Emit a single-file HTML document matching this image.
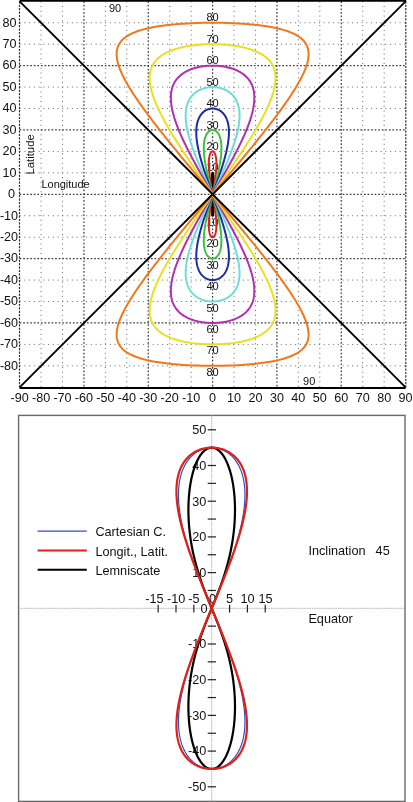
<!DOCTYPE html>
<html><head><meta charset="utf-8"><style>
html,body{margin:0;padding:0;background:#fff;}
body{width:413px;height:802px;overflow:hidden;}
svg{display:block;}
</style></head><body>
<svg width="413" height="802" viewBox="0 0 413 802">
<line x1="41.05" y1="1.30" x2="41.05" y2="387.30" stroke="#666" stroke-width="1" stroke-dasharray="1 3.75"/>
<line x1="19.60" y1="365.85" x2="405.60" y2="365.85" stroke="#666" stroke-width="1" stroke-dasharray="1 3.75"/>
<line x1="62.49" y1="1.30" x2="62.49" y2="387.30" stroke="#666" stroke-width="1" stroke-dasharray="1 3.75"/>
<line x1="19.60" y1="344.41" x2="405.60" y2="344.41" stroke="#666" stroke-width="1" stroke-dasharray="1 3.75"/>
<line x1="83.94" y1="1.30" x2="83.94" y2="387.30" stroke="#3c3c3c" stroke-width="1.2" stroke-dasharray="1.7 1.85"/>
<line x1="19.60" y1="322.96" x2="405.60" y2="322.96" stroke="#3c3c3c" stroke-width="1.2" stroke-dasharray="1.7 1.85"/>
<line x1="105.38" y1="1.30" x2="105.38" y2="387.30" stroke="#666" stroke-width="1" stroke-dasharray="1 3.75"/>
<line x1="19.60" y1="301.52" x2="405.60" y2="301.52" stroke="#666" stroke-width="1" stroke-dasharray="1 3.75"/>
<line x1="126.82" y1="1.30" x2="126.82" y2="387.30" stroke="#666" stroke-width="1" stroke-dasharray="1 3.75"/>
<line x1="19.60" y1="280.08" x2="405.60" y2="280.08" stroke="#666" stroke-width="1" stroke-dasharray="1 3.75"/>
<line x1="148.27" y1="1.30" x2="148.27" y2="387.30" stroke="#3c3c3c" stroke-width="1.2" stroke-dasharray="1.7 1.85"/>
<line x1="19.60" y1="258.63" x2="405.60" y2="258.63" stroke="#3c3c3c" stroke-width="1.2" stroke-dasharray="1.7 1.85"/>
<line x1="169.71" y1="1.30" x2="169.71" y2="387.30" stroke="#666" stroke-width="1" stroke-dasharray="1 3.75"/>
<line x1="19.60" y1="237.19" x2="405.60" y2="237.19" stroke="#666" stroke-width="1" stroke-dasharray="1 3.75"/>
<line x1="191.16" y1="1.30" x2="191.16" y2="387.30" stroke="#666" stroke-width="1" stroke-dasharray="1 3.75"/>
<line x1="19.60" y1="215.74" x2="405.60" y2="215.74" stroke="#666" stroke-width="1" stroke-dasharray="1 3.75"/>
<line x1="212.60" y1="1.30" x2="212.60" y2="387.30" stroke="#3c3c3c" stroke-width="1.2" stroke-dasharray="1.7 1.85"/>
<line x1="19.60" y1="194.30" x2="405.60" y2="194.30" stroke="#3c3c3c" stroke-width="1.2" stroke-dasharray="1.7 1.85"/>
<line x1="234.04" y1="1.30" x2="234.04" y2="387.30" stroke="#666" stroke-width="1" stroke-dasharray="1 3.75"/>
<line x1="19.60" y1="172.86" x2="405.60" y2="172.86" stroke="#666" stroke-width="1" stroke-dasharray="1 3.75"/>
<line x1="255.49" y1="1.30" x2="255.49" y2="387.30" stroke="#666" stroke-width="1" stroke-dasharray="1 3.75"/>
<line x1="19.60" y1="151.41" x2="405.60" y2="151.41" stroke="#666" stroke-width="1" stroke-dasharray="1 3.75"/>
<line x1="276.93" y1="1.30" x2="276.93" y2="387.30" stroke="#3c3c3c" stroke-width="1.2" stroke-dasharray="1.7 1.85"/>
<line x1="19.60" y1="129.97" x2="405.60" y2="129.97" stroke="#3c3c3c" stroke-width="1.2" stroke-dasharray="1.7 1.85"/>
<line x1="298.38" y1="1.30" x2="298.38" y2="387.30" stroke="#666" stroke-width="1" stroke-dasharray="1 3.75"/>
<line x1="19.60" y1="108.52" x2="405.60" y2="108.52" stroke="#666" stroke-width="1" stroke-dasharray="1 3.75"/>
<line x1="319.82" y1="1.30" x2="319.82" y2="387.30" stroke="#666" stroke-width="1" stroke-dasharray="1 3.75"/>
<line x1="19.60" y1="87.08" x2="405.60" y2="87.08" stroke="#666" stroke-width="1" stroke-dasharray="1 3.75"/>
<line x1="341.26" y1="1.30" x2="341.26" y2="387.30" stroke="#3c3c3c" stroke-width="1.2" stroke-dasharray="1.7 1.85"/>
<line x1="19.60" y1="65.64" x2="405.60" y2="65.64" stroke="#3c3c3c" stroke-width="1.2" stroke-dasharray="1.7 1.85"/>
<line x1="362.71" y1="1.30" x2="362.71" y2="387.30" stroke="#666" stroke-width="1" stroke-dasharray="1 3.75"/>
<line x1="19.60" y1="44.19" x2="405.60" y2="44.19" stroke="#666" stroke-width="1" stroke-dasharray="1 3.75"/>
<line x1="384.15" y1="1.30" x2="384.15" y2="387.30" stroke="#666" stroke-width="1" stroke-dasharray="1 3.75"/>
<line x1="19.60" y1="22.75" x2="405.60" y2="22.75" stroke="#666" stroke-width="1" stroke-dasharray="1 3.75"/>
<line x1="19.5" y1="1.30" x2="19.5" y2="387.30" stroke="#333" stroke-width="1.2" stroke-dasharray="2.2 1.2"/>
<line x1="405.8" y1="1.30" x2="405.8" y2="387.30" stroke="#333" stroke-width="1.2" stroke-dasharray="2.2 1.2"/>
<path d="M212.60,194.30 L212.58,194.11 L212.57,193.93 L212.55,193.74 L212.53,193.56 L212.52,193.37 L212.50,193.18 L212.49,193.00 L212.47,192.81 L212.45,192.63 L212.44,192.44 L212.42,192.26 L212.41,192.07 L212.39,191.88 L212.37,191.70 L212.36,191.51 L212.34,191.33 L212.33,191.15 L212.31,190.96 L212.30,190.78 L212.28,190.59 L212.27,190.41 L212.25,190.23 L212.24,190.05 L212.22,189.86 L212.21,189.68 L212.19,189.50 L212.18,189.32 L212.16,189.14 L212.15,188.96 L212.13,188.78 L212.12,188.60 L212.10,188.42 L212.09,188.24 L212.08,188.06 L212.06,187.88 L212.05,187.70 L212.04,187.53 L212.02,187.35 L212.01,187.17 L212.00,187.00 L211.99,186.82 L211.97,186.65 L211.96,186.48 L211.95,186.30 L211.94,186.13 L211.93,185.96 L211.92,185.79 L211.90,185.61 L211.89,185.44 L211.88,185.28 L211.87,185.11 L211.86,184.94 L211.85,184.77 L211.84,184.60 L211.83,184.44 L211.82,184.27 L211.81,184.11 L211.81,183.94 L211.80,183.78 L211.79,183.62 L211.78,183.46 L211.77,183.30 L211.76,183.14 L211.76,182.98 L211.75,182.82 L211.74,182.66 L211.74,182.51 L211.73,182.35 L211.72,182.20 L211.72,182.04 L211.71,181.89 L211.71,181.74 L211.70,181.59 L211.70,181.44 L211.69,181.29 L211.69,181.14 L211.69,180.99 L211.68,180.85 L211.68,180.70 L211.68,180.56 L211.67,180.41 L211.67,180.27 L211.67,180.13 L211.67,179.99 L211.66,179.85 L211.66,179.72 L211.66,179.58 L211.66,179.44 L211.66,179.31 L211.66,179.18 L211.66,179.04 L211.66,178.91 L211.66,178.78 L211.66,178.65 L211.66,178.53 L211.66,178.40 L211.67,178.28 L211.67,178.15 L211.67,178.03 L211.67,177.91 L211.68,177.79 L211.68,177.67 L211.68,177.55 L211.69,177.43 L211.69,177.32 L211.69,177.21 L211.70,177.09 L211.70,176.98 L211.71,176.87 L211.71,176.76 L211.72,176.66 L211.73,176.55 L211.73,176.45 L211.74,176.34 L211.74,176.24 L211.75,176.14 L211.76,176.04 L211.77,175.94 L211.77,175.85 L211.78,175.75 L211.79,175.66 L211.80,175.57 L211.81,175.48 L211.82,175.39 L211.83,175.30 L211.84,175.21 L211.85,175.13 L211.86,175.05 L211.87,174.96 L211.88,174.88 L211.89,174.80 L211.90,174.73 L211.91,174.65 L211.92,174.58 L211.93,174.50 L211.94,174.43 L211.96,174.36 L211.97,174.29 L211.98,174.23 L211.99,174.16 L212.00,174.10 L212.02,174.04 L212.03,173.97 L212.04,173.92 L212.06,173.86 L212.07,173.80 L212.08,173.75 L212.10,173.69 L212.11,173.64 L212.13,173.59 L212.14,173.55 L212.16,173.50 L212.17,173.45 L212.18,173.41 L212.20,173.37 L212.21,173.33 L212.23,173.29 L212.25,173.25 L212.26,173.22 L212.28,173.19 L212.29,173.15 L212.31,173.12 L212.32,173.09 L212.34,173.07 L212.35,173.04 L212.37,173.02 L212.39,173.00 L212.40,172.97 L212.42,172.96 L212.44,172.94 L212.45,172.92 L212.47,172.91 L212.48,172.90 L212.50,172.89 L212.52,172.88 L212.53,172.87 L212.55,172.86 L212.57,172.86 L212.58,172.86 L212.60,172.86 L212.62,172.86 L212.63,172.86 L212.65,172.86 L212.67,172.87 L212.68,172.88 L212.70,172.89 L212.72,172.90 L212.73,172.91 L212.75,172.92 L212.76,172.94 L212.78,172.96 L212.80,172.97 L212.81,173.00 L212.83,173.02 L212.85,173.04 L212.86,173.07 L212.88,173.09 L212.89,173.12 L212.91,173.15 L212.92,173.19 L212.94,173.22 L212.95,173.25 L212.97,173.29 L212.99,173.33 L213.00,173.37 L213.02,173.41 L213.03,173.45 L213.04,173.50 L213.06,173.55 L213.07,173.59 L213.09,173.64 L213.10,173.69 L213.12,173.75 L213.13,173.80 L213.14,173.86 L213.16,173.92 L213.17,173.97 L213.18,174.04 L213.20,174.10 L213.21,174.16 L213.22,174.23 L213.23,174.29 L213.24,174.36 L213.26,174.43 L213.27,174.50 L213.28,174.58 L213.29,174.65 L213.30,174.73 L213.31,174.80 L213.32,174.88 L213.33,174.96 L213.34,175.05 L213.35,175.13 L213.36,175.21 L213.37,175.30 L213.38,175.39 L213.39,175.48 L213.40,175.57 L213.41,175.66 L213.42,175.75 L213.43,175.85 L213.43,175.94 L213.44,176.04 L213.45,176.14 L213.46,176.24 L213.46,176.34 L213.47,176.45 L213.47,176.55 L213.48,176.66 L213.49,176.76 L213.49,176.87 L213.50,176.98 L213.50,177.09 L213.51,177.21 L213.51,177.32 L213.51,177.43 L213.52,177.55 L213.52,177.67 L213.52,177.79 L213.53,177.91 L213.53,178.03 L213.53,178.15 L213.53,178.28 L213.54,178.40 L213.54,178.53 L213.54,178.65 L213.54,178.78 L213.54,178.91 L213.54,179.04 L213.54,179.18 L213.54,179.31 L213.54,179.44 L213.54,179.58 L213.54,179.72 L213.54,179.85 L213.53,179.99 L213.53,180.13 L213.53,180.27 L213.53,180.41 L213.52,180.56 L213.52,180.70 L213.52,180.85 L213.51,180.99 L213.51,181.14 L213.51,181.29 L213.50,181.44 L213.50,181.59 L213.49,181.74 L213.49,181.89 L213.48,182.04 L213.48,182.20 L213.47,182.35 L213.46,182.51 L213.46,182.66 L213.45,182.82 L213.44,182.98 L213.44,183.14 L213.43,183.30 L213.42,183.46 L213.41,183.62 L213.40,183.78 L213.39,183.94 L213.39,184.11 L213.38,184.27 L213.37,184.44 L213.36,184.60 L213.35,184.77 L213.34,184.94 L213.33,185.11 L213.32,185.28 L213.31,185.44 L213.30,185.61 L213.28,185.79 L213.27,185.96 L213.26,186.13 L213.25,186.30 L213.24,186.48 L213.23,186.65 L213.21,186.82 L213.20,187.00 L213.19,187.17 L213.18,187.35 L213.16,187.53 L213.15,187.70 L213.14,187.88 L213.12,188.06 L213.11,188.24 L213.10,188.42 L213.08,188.60 L213.07,188.78 L213.05,188.96 L213.04,189.14 L213.02,189.32 L213.01,189.50 L212.99,189.68 L212.98,189.86 L212.96,190.05 L212.95,190.23 L212.93,190.41 L212.92,190.59 L212.90,190.78 L212.89,190.96 L212.87,191.15 L212.86,191.33 L212.84,191.51 L212.83,191.70 L212.81,191.88 L212.79,192.07 L212.78,192.26 L212.76,192.44 L212.75,192.63 L212.73,192.81 L212.71,193.00 L212.70,193.18 L212.68,193.37 L212.67,193.56 L212.65,193.74 L212.63,193.93 L212.62,194.11 L212.60,194.30 L212.58,194.49 L212.57,194.67 L212.55,194.86 L212.53,195.04 L212.52,195.23 L212.50,195.42 L212.49,195.60 L212.47,195.79 L212.45,195.97 L212.44,196.16 L212.42,196.34 L212.41,196.53 L212.39,196.72 L212.37,196.90 L212.36,197.09 L212.34,197.27 L212.33,197.45 L212.31,197.64 L212.30,197.82 L212.28,198.01 L212.27,198.19 L212.25,198.37 L212.24,198.55 L212.22,198.74 L212.21,198.92 L212.19,199.10 L212.18,199.28 L212.16,199.46 L212.15,199.64 L212.13,199.82 L212.12,200.00 L212.10,200.18 L212.09,200.36 L212.08,200.54 L212.06,200.72 L212.05,200.90 L212.04,201.07 L212.02,201.25 L212.01,201.43 L212.00,201.60 L211.99,201.78 L211.97,201.95 L211.96,202.12 L211.95,202.30 L211.94,202.47 L211.93,202.64 L211.92,202.81 L211.90,202.99 L211.89,203.16 L211.88,203.32 L211.87,203.49 L211.86,203.66 L211.85,203.83 L211.84,204.00 L211.83,204.16 L211.82,204.33 L211.81,204.49 L211.81,204.66 L211.80,204.82 L211.79,204.98 L211.78,205.14 L211.77,205.30 L211.76,205.46 L211.76,205.62 L211.75,205.78 L211.74,205.94 L211.74,206.09 L211.73,206.25 L211.72,206.40 L211.72,206.56 L211.71,206.71 L211.71,206.86 L211.70,207.01 L211.70,207.16 L211.69,207.31 L211.69,207.46 L211.69,207.61 L211.68,207.75 L211.68,207.90 L211.68,208.04 L211.67,208.19 L211.67,208.33 L211.67,208.47 L211.67,208.61 L211.66,208.75 L211.66,208.88 L211.66,209.02 L211.66,209.16 L211.66,209.29 L211.66,209.42 L211.66,209.56 L211.66,209.69 L211.66,209.82 L211.66,209.95 L211.66,210.07 L211.66,210.20 L211.67,210.32 L211.67,210.45 L211.67,210.57 L211.67,210.69 L211.68,210.81 L211.68,210.93 L211.68,211.05 L211.69,211.17 L211.69,211.28 L211.69,211.39 L211.70,211.51 L211.70,211.62 L211.71,211.73 L211.71,211.84 L211.72,211.94 L211.73,212.05 L211.73,212.15 L211.74,212.26 L211.74,212.36 L211.75,212.46 L211.76,212.56 L211.77,212.66 L211.77,212.75 L211.78,212.85 L211.79,212.94 L211.80,213.03 L211.81,213.12 L211.82,213.21 L211.83,213.30 L211.84,213.39 L211.85,213.47 L211.86,213.55 L211.87,213.64 L211.88,213.72 L211.89,213.80 L211.90,213.87 L211.91,213.95 L211.92,214.02 L211.93,214.10 L211.94,214.17 L211.96,214.24 L211.97,214.31 L211.98,214.37 L211.99,214.44 L212.00,214.50 L212.02,214.56 L212.03,214.63 L212.04,214.68 L212.06,214.74 L212.07,214.80 L212.08,214.85 L212.10,214.91 L212.11,214.96 L212.13,215.01 L212.14,215.05 L212.16,215.10 L212.17,215.15 L212.18,215.19 L212.20,215.23 L212.21,215.27 L212.23,215.31 L212.25,215.35 L212.26,215.38 L212.28,215.41 L212.29,215.45 L212.31,215.48 L212.32,215.51 L212.34,215.53 L212.35,215.56 L212.37,215.58 L212.39,215.60 L212.40,215.63 L212.42,215.64 L212.44,215.66 L212.45,215.68 L212.47,215.69 L212.48,215.70 L212.50,215.71 L212.52,215.72 L212.53,215.73 L212.55,215.74 L212.57,215.74 L212.58,215.74 L212.60,215.74 L212.62,215.74 L212.63,215.74 L212.65,215.74 L212.67,215.73 L212.68,215.72 L212.70,215.71 L212.72,215.70 L212.73,215.69 L212.75,215.68 L212.76,215.66 L212.78,215.64 L212.80,215.63 L212.81,215.60 L212.83,215.58 L212.85,215.56 L212.86,215.53 L212.88,215.51 L212.89,215.48 L212.91,215.45 L212.92,215.41 L212.94,215.38 L212.95,215.35 L212.97,215.31 L212.99,215.27 L213.00,215.23 L213.02,215.19 L213.03,215.15 L213.04,215.10 L213.06,215.05 L213.07,215.01 L213.09,214.96 L213.10,214.91 L213.12,214.85 L213.13,214.80 L213.14,214.74 L213.16,214.68 L213.17,214.63 L213.18,214.56 L213.20,214.50 L213.21,214.44 L213.22,214.37 L213.23,214.31 L213.24,214.24 L213.26,214.17 L213.27,214.10 L213.28,214.02 L213.29,213.95 L213.30,213.87 L213.31,213.80 L213.32,213.72 L213.33,213.64 L213.34,213.55 L213.35,213.47 L213.36,213.39 L213.37,213.30 L213.38,213.21 L213.39,213.12 L213.40,213.03 L213.41,212.94 L213.42,212.85 L213.43,212.75 L213.43,212.66 L213.44,212.56 L213.45,212.46 L213.46,212.36 L213.46,212.26 L213.47,212.15 L213.47,212.05 L213.48,211.94 L213.49,211.84 L213.49,211.73 L213.50,211.62 L213.50,211.51 L213.51,211.39 L213.51,211.28 L213.51,211.17 L213.52,211.05 L213.52,210.93 L213.52,210.81 L213.53,210.69 L213.53,210.57 L213.53,210.45 L213.53,210.32 L213.54,210.20 L213.54,210.07 L213.54,209.95 L213.54,209.82 L213.54,209.69 L213.54,209.56 L213.54,209.42 L213.54,209.29 L213.54,209.16 L213.54,209.02 L213.54,208.88 L213.54,208.75 L213.53,208.61 L213.53,208.47 L213.53,208.33 L213.53,208.19 L213.52,208.04 L213.52,207.90 L213.52,207.75 L213.51,207.61 L213.51,207.46 L213.51,207.31 L213.50,207.16 L213.50,207.01 L213.49,206.86 L213.49,206.71 L213.48,206.56 L213.48,206.40 L213.47,206.25 L213.46,206.09 L213.46,205.94 L213.45,205.78 L213.44,205.62 L213.44,205.46 L213.43,205.30 L213.42,205.14 L213.41,204.98 L213.40,204.82 L213.39,204.66 L213.39,204.49 L213.38,204.33 L213.37,204.16 L213.36,204.00 L213.35,203.83 L213.34,203.66 L213.33,203.49 L213.32,203.32 L213.31,203.16 L213.30,202.99 L213.28,202.81 L213.27,202.64 L213.26,202.47 L213.25,202.30 L213.24,202.12 L213.23,201.95 L213.21,201.78 L213.20,201.60 L213.19,201.43 L213.18,201.25 L213.16,201.07 L213.15,200.90 L213.14,200.72 L213.12,200.54 L213.11,200.36 L213.10,200.18 L213.08,200.00 L213.07,199.82 L213.05,199.64 L213.04,199.46 L213.02,199.28 L213.01,199.10 L212.99,198.92 L212.98,198.74 L212.96,198.55 L212.95,198.37 L212.93,198.19 L212.92,198.01 L212.90,197.82 L212.89,197.64 L212.87,197.45 L212.86,197.27 L212.84,197.09 L212.83,196.90 L212.81,196.72 L212.79,196.53 L212.78,196.34 L212.76,196.16 L212.75,195.97 L212.73,195.79 L212.71,195.60 L212.70,195.42 L212.68,195.23 L212.67,195.04 L212.65,194.86 L212.63,194.67 L212.62,194.49 L212.60,194.30Z" fill="none" stroke="#000000" stroke-width="2.0" stroke-linejoin="round"/>
<g font-family="Liberation Sans, Arial, Helvetica, sans-serif" font-size="11" fill="#111"><text x="212.60" y="171.46" text-anchor="middle">10</text><text x="212.60" y="225.74" text-anchor="middle">10</text></g>
<path d="M212.60,194.30 L212.54,193.93 L212.47,193.57 L212.41,193.20 L212.34,192.83 L212.28,192.47 L212.21,192.10 L212.15,191.73 L212.08,191.37 L212.02,191.00 L211.96,190.64 L211.89,190.27 L211.83,189.91 L211.77,189.54 L211.70,189.18 L211.64,188.81 L211.58,188.45 L211.52,188.09 L211.45,187.72 L211.39,187.36 L211.33,187.00 L211.27,186.64 L211.21,186.28 L211.15,185.92 L211.09,185.56 L211.03,185.20 L210.97,184.84 L210.91,184.48 L210.85,184.12 L210.80,183.77 L210.74,183.41 L210.68,183.05 L210.63,182.70 L210.57,182.35 L210.52,181.99 L210.46,181.64 L210.41,181.29 L210.36,180.94 L210.30,180.59 L210.25,180.24 L210.20,179.89 L210.15,179.55 L210.10,179.20 L210.05,178.86 L210.00,178.51 L209.96,178.17 L209.91,177.83 L209.86,177.49 L209.82,177.15 L209.78,176.81 L209.73,176.48 L209.69,176.14 L209.65,175.81 L209.61,175.48 L209.57,175.14 L209.53,174.81 L209.49,174.49 L209.45,174.16 L209.41,173.83 L209.38,173.51 L209.34,173.19 L209.31,172.86 L209.28,172.54 L209.24,172.22 L209.21,171.91 L209.18,171.59 L209.15,171.28 L209.13,170.97 L209.10,170.66 L209.07,170.35 L209.05,170.04 L209.03,169.73 L209.00,169.43 L208.98,169.13 L208.96,168.83 L208.94,168.53 L208.92,168.23 L208.90,167.94 L208.89,167.65 L208.87,167.36 L208.86,167.07 L208.85,166.78 L208.83,166.49 L208.82,166.21 L208.81,165.93 L208.81,165.65 L208.80,165.37 L208.79,165.10 L208.79,164.83 L208.78,164.56 L208.78,164.29 L208.78,164.02 L208.78,163.76 L208.78,163.50 L208.78,163.24 L208.79,162.98 L208.79,162.72 L208.80,162.47 L208.80,162.22 L208.81,161.97 L208.82,161.73 L208.83,161.49 L208.84,161.25 L208.85,161.01 L208.87,160.77 L208.88,160.54 L208.90,160.31 L208.91,160.08 L208.93,159.85 L208.95,159.63 L208.97,159.41 L208.99,159.19 L209.02,158.98 L209.04,158.76 L209.07,158.55 L209.09,158.35 L209.12,158.14 L209.15,157.94 L209.18,157.74 L209.21,157.55 L209.24,157.35 L209.27,157.16 L209.31,156.97 L209.34,156.79 L209.38,156.61 L209.41,156.43 L209.45,156.25 L209.49,156.08 L209.53,155.91 L209.57,155.74 L209.61,155.58 L209.66,155.42 L209.70,155.26 L209.75,155.10 L209.79,154.95 L209.84,154.80 L209.89,154.65 L209.93,154.51 L209.98,154.37 L210.03,154.23 L210.08,154.10 L210.14,153.97 L210.19,153.84 L210.24,153.72 L210.30,153.59 L210.35,153.48 L210.41,153.36 L210.46,153.25 L210.52,153.14 L210.58,153.03 L210.64,152.93 L210.70,152.83 L210.76,152.74 L210.82,152.65 L210.88,152.56 L210.94,152.47 L211.00,152.39 L211.06,152.31 L211.13,152.23 L211.19,152.16 L211.25,152.09 L211.32,152.02 L211.38,151.96 L211.45,151.90 L211.51,151.85 L211.58,151.79 L211.65,151.75 L211.71,151.70 L211.78,151.66 L211.85,151.62 L211.92,151.58 L211.98,151.55 L212.05,151.52 L212.12,151.50 L212.19,151.47 L212.26,151.45 L212.32,151.44 L212.39,151.43 L212.46,151.42 L212.53,151.41 L212.60,151.41 L212.67,151.41 L212.74,151.42 L212.81,151.43 L212.88,151.44 L212.94,151.45 L213.01,151.47 L213.08,151.50 L213.15,151.52 L213.22,151.55 L213.28,151.58 L213.35,151.62 L213.42,151.66 L213.49,151.70 L213.55,151.75 L213.62,151.79 L213.69,151.85 L213.75,151.90 L213.82,151.96 L213.88,152.02 L213.95,152.09 L214.01,152.16 L214.07,152.23 L214.14,152.31 L214.20,152.39 L214.26,152.47 L214.32,152.56 L214.38,152.65 L214.44,152.74 L214.50,152.83 L214.56,152.93 L214.62,153.03 L214.68,153.14 L214.74,153.25 L214.79,153.36 L214.85,153.48 L214.90,153.59 L214.96,153.72 L215.01,153.84 L215.06,153.97 L215.12,154.10 L215.17,154.23 L215.22,154.37 L215.27,154.51 L215.31,154.65 L215.36,154.80 L215.41,154.95 L215.45,155.10 L215.50,155.26 L215.54,155.42 L215.59,155.58 L215.63,155.74 L215.67,155.91 L215.71,156.08 L215.75,156.25 L215.79,156.43 L215.82,156.61 L215.86,156.79 L215.89,156.97 L215.93,157.16 L215.96,157.35 L215.99,157.55 L216.02,157.74 L216.05,157.94 L216.08,158.14 L216.11,158.35 L216.13,158.55 L216.16,158.76 L216.18,158.98 L216.21,159.19 L216.23,159.41 L216.25,159.63 L216.27,159.85 L216.29,160.08 L216.30,160.31 L216.32,160.54 L216.33,160.77 L216.35,161.01 L216.36,161.25 L216.37,161.49 L216.38,161.73 L216.39,161.97 L216.40,162.22 L216.40,162.47 L216.41,162.72 L216.41,162.98 L216.42,163.24 L216.42,163.50 L216.42,163.76 L216.42,164.02 L216.42,164.29 L216.42,164.56 L216.41,164.83 L216.41,165.10 L216.40,165.37 L216.39,165.65 L216.39,165.93 L216.38,166.21 L216.37,166.49 L216.35,166.78 L216.34,167.07 L216.33,167.36 L216.31,167.65 L216.30,167.94 L216.28,168.23 L216.26,168.53 L216.24,168.83 L216.22,169.13 L216.20,169.43 L216.17,169.73 L216.15,170.04 L216.13,170.35 L216.10,170.66 L216.07,170.97 L216.05,171.28 L216.02,171.59 L215.99,171.91 L215.96,172.22 L215.92,172.54 L215.89,172.86 L215.86,173.19 L215.82,173.51 L215.79,173.83 L215.75,174.16 L215.71,174.49 L215.67,174.81 L215.63,175.14 L215.59,175.48 L215.55,175.81 L215.51,176.14 L215.47,176.48 L215.42,176.81 L215.38,177.15 L215.34,177.49 L215.29,177.83 L215.24,178.17 L215.20,178.51 L215.15,178.86 L215.10,179.20 L215.05,179.55 L215.00,179.89 L214.95,180.24 L214.90,180.59 L214.84,180.94 L214.79,181.29 L214.74,181.64 L214.68,181.99 L214.63,182.35 L214.57,182.70 L214.52,183.05 L214.46,183.41 L214.40,183.77 L214.35,184.12 L214.29,184.48 L214.23,184.84 L214.17,185.20 L214.11,185.56 L214.05,185.92 L213.99,186.28 L213.93,186.64 L213.87,187.00 L213.81,187.36 L213.75,187.72 L213.68,188.09 L213.62,188.45 L213.56,188.81 L213.50,189.18 L213.43,189.54 L213.37,189.91 L213.31,190.27 L213.24,190.64 L213.18,191.00 L213.12,191.37 L213.05,191.73 L212.99,192.10 L212.92,192.47 L212.86,192.83 L212.79,193.20 L212.73,193.57 L212.66,193.93 L212.60,194.30 L212.54,194.67 L212.47,195.03 L212.41,195.40 L212.34,195.77 L212.28,196.13 L212.21,196.50 L212.15,196.87 L212.08,197.23 L212.02,197.60 L211.96,197.96 L211.89,198.33 L211.83,198.69 L211.77,199.06 L211.70,199.42 L211.64,199.79 L211.58,200.15 L211.52,200.51 L211.45,200.88 L211.39,201.24 L211.33,201.60 L211.27,201.96 L211.21,202.32 L211.15,202.68 L211.09,203.04 L211.03,203.40 L210.97,203.76 L210.91,204.12 L210.85,204.48 L210.80,204.83 L210.74,205.19 L210.68,205.55 L210.63,205.90 L210.57,206.25 L210.52,206.61 L210.46,206.96 L210.41,207.31 L210.36,207.66 L210.30,208.01 L210.25,208.36 L210.20,208.71 L210.15,209.05 L210.10,209.40 L210.05,209.74 L210.00,210.09 L209.96,210.43 L209.91,210.77 L209.86,211.11 L209.82,211.45 L209.78,211.79 L209.73,212.12 L209.69,212.46 L209.65,212.79 L209.61,213.12 L209.57,213.46 L209.53,213.79 L209.49,214.11 L209.45,214.44 L209.41,214.77 L209.38,215.09 L209.34,215.41 L209.31,215.74 L209.28,216.06 L209.24,216.38 L209.21,216.69 L209.18,217.01 L209.15,217.32 L209.13,217.63 L209.10,217.94 L209.07,218.25 L209.05,218.56 L209.03,218.87 L209.00,219.17 L208.98,219.47 L208.96,219.77 L208.94,220.07 L208.92,220.37 L208.90,220.66 L208.89,220.95 L208.87,221.24 L208.86,221.53 L208.85,221.82 L208.83,222.11 L208.82,222.39 L208.81,222.67 L208.81,222.95 L208.80,223.23 L208.79,223.50 L208.79,223.77 L208.78,224.04 L208.78,224.31 L208.78,224.58 L208.78,224.84 L208.78,225.10 L208.78,225.36 L208.79,225.62 L208.79,225.88 L208.80,226.13 L208.80,226.38 L208.81,226.63 L208.82,226.87 L208.83,227.11 L208.84,227.35 L208.85,227.59 L208.87,227.83 L208.88,228.06 L208.90,228.29 L208.91,228.52 L208.93,228.75 L208.95,228.97 L208.97,229.19 L208.99,229.41 L209.02,229.62 L209.04,229.84 L209.07,230.05 L209.09,230.25 L209.12,230.46 L209.15,230.66 L209.18,230.86 L209.21,231.05 L209.24,231.25 L209.27,231.44 L209.31,231.63 L209.34,231.81 L209.38,231.99 L209.41,232.17 L209.45,232.35 L209.49,232.52 L209.53,232.69 L209.57,232.86 L209.61,233.02 L209.66,233.18 L209.70,233.34 L209.75,233.50 L209.79,233.65 L209.84,233.80 L209.89,233.95 L209.93,234.09 L209.98,234.23 L210.03,234.37 L210.08,234.50 L210.14,234.63 L210.19,234.76 L210.24,234.88 L210.30,235.01 L210.35,235.12 L210.41,235.24 L210.46,235.35 L210.52,235.46 L210.58,235.57 L210.64,235.67 L210.70,235.77 L210.76,235.86 L210.82,235.95 L210.88,236.04 L210.94,236.13 L211.00,236.21 L211.06,236.29 L211.13,236.37 L211.19,236.44 L211.25,236.51 L211.32,236.58 L211.38,236.64 L211.45,236.70 L211.51,236.75 L211.58,236.81 L211.65,236.85 L211.71,236.90 L211.78,236.94 L211.85,236.98 L211.92,237.02 L211.98,237.05 L212.05,237.08 L212.12,237.10 L212.19,237.13 L212.26,237.15 L212.32,237.16 L212.39,237.17 L212.46,237.18 L212.53,237.19 L212.60,237.19 L212.67,237.19 L212.74,237.18 L212.81,237.17 L212.88,237.16 L212.94,237.15 L213.01,237.13 L213.08,237.10 L213.15,237.08 L213.22,237.05 L213.28,237.02 L213.35,236.98 L213.42,236.94 L213.49,236.90 L213.55,236.85 L213.62,236.81 L213.69,236.75 L213.75,236.70 L213.82,236.64 L213.88,236.58 L213.95,236.51 L214.01,236.44 L214.07,236.37 L214.14,236.29 L214.20,236.21 L214.26,236.13 L214.32,236.04 L214.38,235.95 L214.44,235.86 L214.50,235.77 L214.56,235.67 L214.62,235.57 L214.68,235.46 L214.74,235.35 L214.79,235.24 L214.85,235.12 L214.90,235.01 L214.96,234.88 L215.01,234.76 L215.06,234.63 L215.12,234.50 L215.17,234.37 L215.22,234.23 L215.27,234.09 L215.31,233.95 L215.36,233.80 L215.41,233.65 L215.45,233.50 L215.50,233.34 L215.54,233.18 L215.59,233.02 L215.63,232.86 L215.67,232.69 L215.71,232.52 L215.75,232.35 L215.79,232.17 L215.82,231.99 L215.86,231.81 L215.89,231.63 L215.93,231.44 L215.96,231.25 L215.99,231.05 L216.02,230.86 L216.05,230.66 L216.08,230.46 L216.11,230.25 L216.13,230.05 L216.16,229.84 L216.18,229.62 L216.21,229.41 L216.23,229.19 L216.25,228.97 L216.27,228.75 L216.29,228.52 L216.30,228.29 L216.32,228.06 L216.33,227.83 L216.35,227.59 L216.36,227.35 L216.37,227.11 L216.38,226.87 L216.39,226.63 L216.40,226.38 L216.40,226.13 L216.41,225.88 L216.41,225.62 L216.42,225.36 L216.42,225.10 L216.42,224.84 L216.42,224.58 L216.42,224.31 L216.42,224.04 L216.41,223.77 L216.41,223.50 L216.40,223.23 L216.39,222.95 L216.39,222.67 L216.38,222.39 L216.37,222.11 L216.35,221.82 L216.34,221.53 L216.33,221.24 L216.31,220.95 L216.30,220.66 L216.28,220.37 L216.26,220.07 L216.24,219.77 L216.22,219.47 L216.20,219.17 L216.17,218.87 L216.15,218.56 L216.13,218.25 L216.10,217.94 L216.07,217.63 L216.05,217.32 L216.02,217.01 L215.99,216.69 L215.96,216.38 L215.92,216.06 L215.89,215.74 L215.86,215.41 L215.82,215.09 L215.79,214.77 L215.75,214.44 L215.71,214.11 L215.67,213.79 L215.63,213.46 L215.59,213.12 L215.55,212.79 L215.51,212.46 L215.47,212.12 L215.42,211.79 L215.38,211.45 L215.34,211.11 L215.29,210.77 L215.24,210.43 L215.20,210.09 L215.15,209.74 L215.10,209.40 L215.05,209.05 L215.00,208.71 L214.95,208.36 L214.90,208.01 L214.84,207.66 L214.79,207.31 L214.74,206.96 L214.68,206.61 L214.63,206.25 L214.57,205.90 L214.52,205.55 L214.46,205.19 L214.40,204.83 L214.35,204.48 L214.29,204.12 L214.23,203.76 L214.17,203.40 L214.11,203.04 L214.05,202.68 L213.99,202.32 L213.93,201.96 L213.87,201.60 L213.81,201.24 L213.75,200.88 L213.68,200.51 L213.62,200.15 L213.56,199.79 L213.50,199.42 L213.43,199.06 L213.37,198.69 L213.31,198.33 L213.24,197.96 L213.18,197.60 L213.12,197.23 L213.05,196.87 L212.99,196.50 L212.92,196.13 L212.86,195.77 L212.79,195.40 L212.73,195.03 L212.66,194.67 L212.60,194.30Z" fill="none" stroke="#e02020" stroke-width="2.0" stroke-linejoin="round"/>
<g font-family="Liberation Sans, Arial, Helvetica, sans-serif" font-size="11" fill="#111"><text x="212.60" y="150.01" text-anchor="middle">20</text><text x="212.60" y="247.19" text-anchor="middle">20</text></g>
<path d="M212.60,194.30 L212.46,193.76 L212.31,193.23 L212.17,192.69 L212.03,192.16 L211.88,191.62 L211.74,191.08 L211.60,190.55 L211.45,190.01 L211.31,189.48 L211.17,188.94 L211.03,188.41 L210.89,187.88 L210.75,187.34 L210.61,186.81 L210.47,186.28 L210.33,185.74 L210.19,185.21 L210.05,184.68 L209.91,184.15 L209.77,183.62 L209.64,183.09 L209.50,182.56 L209.37,182.03 L209.23,181.50 L209.10,180.98 L208.97,180.45 L208.84,179.93 L208.71,179.40 L208.58,178.88 L208.45,178.36 L208.32,177.83 L208.20,177.31 L208.07,176.79 L207.95,176.27 L207.82,175.76 L207.70,175.24 L207.58,174.72 L207.46,174.21 L207.35,173.70 L207.23,173.19 L207.11,172.67 L207.00,172.17 L206.89,171.66 L206.78,171.15 L206.67,170.64 L206.56,170.14 L206.45,169.64 L206.35,169.14 L206.25,168.64 L206.15,168.14 L206.05,167.64 L205.95,167.15 L205.85,166.66 L205.76,166.16 L205.67,165.68 L205.58,165.19 L205.49,164.70 L205.40,164.22 L205.32,163.73 L205.23,163.25 L205.15,162.78 L205.07,162.30 L205.00,161.82 L204.92,161.35 L204.85,160.88 L204.78,160.41 L204.71,159.95 L204.65,159.48 L204.58,159.02 L204.52,158.56 L204.46,158.10 L204.40,157.65 L204.35,157.20 L204.30,156.75 L204.25,156.30 L204.20,155.85 L204.15,155.41 L204.11,154.97 L204.07,154.53 L204.03,154.10 L204.00,153.67 L203.97,153.24 L203.93,152.81 L203.91,152.39 L203.88,151.96 L203.86,151.55 L203.84,151.13 L203.82,150.72 L203.81,150.31 L203.79,149.90 L203.78,149.50 L203.78,149.10 L203.77,148.70 L203.77,148.30 L203.77,147.91 L203.78,147.53 L203.78,147.14 L203.79,146.76 L203.80,146.38 L203.82,146.01 L203.84,145.63 L203.86,145.27 L203.88,144.90 L203.90,144.54 L203.93,144.18 L203.96,143.83 L204.00,143.48 L204.03,143.13 L204.07,142.79 L204.12,142.45 L204.16,142.12 L204.21,141.79 L204.26,141.46 L204.31,141.13 L204.37,140.82 L204.43,140.50 L204.49,140.19 L204.55,139.88 L204.62,139.58 L204.69,139.28 L204.76,138.98 L204.83,138.69 L204.91,138.40 L204.99,138.12 L205.07,137.84 L205.16,137.57 L205.25,137.30 L205.34,137.03 L205.43,136.77 L205.52,136.52 L205.62,136.26 L205.72,136.02 L205.82,135.77 L205.93,135.54 L206.04,135.30 L206.14,135.07 L206.26,134.85 L206.37,134.63 L206.49,134.41 L206.60,134.20 L206.72,134.00 L206.85,133.80 L206.97,133.60 L207.10,133.41 L207.23,133.23 L207.36,133.05 L207.49,132.87 L207.63,132.70 L207.76,132.53 L207.90,132.37 L208.04,132.22 L208.18,132.06 L208.32,131.92 L208.47,131.78 L208.61,131.64 L208.76,131.51 L208.91,131.39 L209.06,131.27 L209.21,131.15 L209.37,131.04 L209.52,130.94 L209.67,130.84 L209.83,130.75 L209.99,130.66 L210.15,130.57 L210.31,130.50 L210.47,130.42 L210.63,130.36 L210.79,130.29 L210.95,130.24 L211.11,130.19 L211.28,130.14 L211.44,130.10 L211.61,130.07 L211.77,130.04 L211.94,130.01 L212.10,129.99 L212.27,129.98 L212.43,129.97 L212.60,129.97 L212.77,129.97 L212.93,129.98 L213.10,129.99 L213.26,130.01 L213.43,130.04 L213.59,130.07 L213.76,130.10 L213.92,130.14 L214.09,130.19 L214.25,130.24 L214.41,130.29 L214.57,130.36 L214.73,130.42 L214.89,130.50 L215.05,130.57 L215.21,130.66 L215.37,130.75 L215.53,130.84 L215.68,130.94 L215.83,131.04 L215.99,131.15 L216.14,131.27 L216.29,131.39 L216.44,131.51 L216.59,131.64 L216.73,131.78 L216.88,131.92 L217.02,132.06 L217.16,132.22 L217.30,132.37 L217.44,132.53 L217.57,132.70 L217.71,132.87 L217.84,133.05 L217.97,133.23 L218.10,133.41 L218.23,133.60 L218.35,133.80 L218.48,134.00 L218.60,134.20 L218.71,134.41 L218.83,134.63 L218.94,134.85 L219.06,135.07 L219.16,135.30 L219.27,135.54 L219.38,135.77 L219.48,136.02 L219.58,136.26 L219.68,136.52 L219.77,136.77 L219.86,137.03 L219.95,137.30 L220.04,137.57 L220.13,137.84 L220.21,138.12 L220.29,138.40 L220.37,138.69 L220.44,138.98 L220.51,139.28 L220.58,139.58 L220.65,139.88 L220.71,140.19 L220.77,140.50 L220.83,140.82 L220.89,141.13 L220.94,141.46 L220.99,141.79 L221.04,142.12 L221.08,142.45 L221.13,142.79 L221.17,143.13 L221.20,143.48 L221.24,143.83 L221.27,144.18 L221.30,144.54 L221.32,144.90 L221.34,145.27 L221.36,145.63 L221.38,146.01 L221.40,146.38 L221.41,146.76 L221.42,147.14 L221.42,147.53 L221.43,147.91 L221.43,148.30 L221.43,148.70 L221.42,149.10 L221.42,149.50 L221.41,149.90 L221.39,150.31 L221.38,150.72 L221.36,151.13 L221.34,151.55 L221.32,151.96 L221.29,152.39 L221.27,152.81 L221.23,153.24 L221.20,153.67 L221.17,154.10 L221.13,154.53 L221.09,154.97 L221.05,155.41 L221.00,155.85 L220.95,156.30 L220.90,156.75 L220.85,157.20 L220.80,157.65 L220.74,158.10 L220.68,158.56 L220.62,159.02 L220.55,159.48 L220.49,159.95 L220.42,160.41 L220.35,160.88 L220.28,161.35 L220.20,161.82 L220.13,162.30 L220.05,162.78 L219.97,163.25 L219.88,163.73 L219.80,164.22 L219.71,164.70 L219.62,165.19 L219.53,165.68 L219.44,166.16 L219.35,166.66 L219.25,167.15 L219.15,167.64 L219.05,168.14 L218.95,168.64 L218.85,169.14 L218.75,169.64 L218.64,170.14 L218.53,170.64 L218.42,171.15 L218.31,171.66 L218.20,172.17 L218.09,172.67 L217.97,173.19 L217.85,173.70 L217.74,174.21 L217.62,174.72 L217.50,175.24 L217.38,175.76 L217.25,176.27 L217.13,176.79 L217.00,177.31 L216.88,177.83 L216.75,178.36 L216.62,178.88 L216.49,179.40 L216.36,179.93 L216.23,180.45 L216.10,180.98 L215.97,181.50 L215.83,182.03 L215.70,182.56 L215.56,183.09 L215.43,183.62 L215.29,184.15 L215.15,184.68 L215.01,185.21 L214.87,185.74 L214.73,186.28 L214.59,186.81 L214.45,187.34 L214.31,187.88 L214.17,188.41 L214.03,188.94 L213.89,189.48 L213.75,190.01 L213.60,190.55 L213.46,191.08 L213.32,191.62 L213.17,192.16 L213.03,192.69 L212.89,193.23 L212.74,193.76 L212.60,194.30 L212.46,194.84 L212.31,195.37 L212.17,195.91 L212.03,196.44 L211.88,196.98 L211.74,197.52 L211.60,198.05 L211.45,198.59 L211.31,199.12 L211.17,199.66 L211.03,200.19 L210.89,200.72 L210.75,201.26 L210.61,201.79 L210.47,202.32 L210.33,202.86 L210.19,203.39 L210.05,203.92 L209.91,204.45 L209.77,204.98 L209.64,205.51 L209.50,206.04 L209.37,206.57 L209.23,207.10 L209.10,207.62 L208.97,208.15 L208.84,208.67 L208.71,209.20 L208.58,209.72 L208.45,210.24 L208.32,210.77 L208.20,211.29 L208.07,211.81 L207.95,212.33 L207.82,212.84 L207.70,213.36 L207.58,213.88 L207.46,214.39 L207.35,214.90 L207.23,215.41 L207.11,215.93 L207.00,216.43 L206.89,216.94 L206.78,217.45 L206.67,217.96 L206.56,218.46 L206.45,218.96 L206.35,219.46 L206.25,219.96 L206.15,220.46 L206.05,220.96 L205.95,221.45 L205.85,221.94 L205.76,222.44 L205.67,222.92 L205.58,223.41 L205.49,223.90 L205.40,224.38 L205.32,224.87 L205.23,225.35 L205.15,225.82 L205.07,226.30 L205.00,226.78 L204.92,227.25 L204.85,227.72 L204.78,228.19 L204.71,228.65 L204.65,229.12 L204.58,229.58 L204.52,230.04 L204.46,230.50 L204.40,230.95 L204.35,231.40 L204.30,231.85 L204.25,232.30 L204.20,232.75 L204.15,233.19 L204.11,233.63 L204.07,234.07 L204.03,234.50 L204.00,234.93 L203.97,235.36 L203.93,235.79 L203.91,236.21 L203.88,236.64 L203.86,237.05 L203.84,237.47 L203.82,237.88 L203.81,238.29 L203.79,238.70 L203.78,239.10 L203.78,239.50 L203.77,239.90 L203.77,240.30 L203.77,240.69 L203.78,241.07 L203.78,241.46 L203.79,241.84 L203.80,242.22 L203.82,242.59 L203.84,242.97 L203.86,243.33 L203.88,243.70 L203.90,244.06 L203.93,244.42 L203.96,244.77 L204.00,245.12 L204.03,245.47 L204.07,245.81 L204.12,246.15 L204.16,246.48 L204.21,246.81 L204.26,247.14 L204.31,247.47 L204.37,247.78 L204.43,248.10 L204.49,248.41 L204.55,248.72 L204.62,249.02 L204.69,249.32 L204.76,249.62 L204.83,249.91 L204.91,250.20 L204.99,250.48 L205.07,250.76 L205.16,251.03 L205.25,251.30 L205.34,251.57 L205.43,251.83 L205.52,252.08 L205.62,252.34 L205.72,252.58 L205.82,252.83 L205.93,253.06 L206.04,253.30 L206.14,253.53 L206.26,253.75 L206.37,253.97 L206.49,254.19 L206.60,254.40 L206.72,254.60 L206.85,254.80 L206.97,255.00 L207.10,255.19 L207.23,255.37 L207.36,255.55 L207.49,255.73 L207.63,255.90 L207.76,256.07 L207.90,256.23 L208.04,256.38 L208.18,256.54 L208.32,256.68 L208.47,256.82 L208.61,256.96 L208.76,257.09 L208.91,257.21 L209.06,257.33 L209.21,257.45 L209.37,257.56 L209.52,257.66 L209.67,257.76 L209.83,257.85 L209.99,257.94 L210.15,258.03 L210.31,258.10 L210.47,258.18 L210.63,258.24 L210.79,258.31 L210.95,258.36 L211.11,258.41 L211.28,258.46 L211.44,258.50 L211.61,258.53 L211.77,258.56 L211.94,258.59 L212.10,258.61 L212.27,258.62 L212.43,258.63 L212.60,258.63 L212.77,258.63 L212.93,258.62 L213.10,258.61 L213.26,258.59 L213.43,258.56 L213.59,258.53 L213.76,258.50 L213.92,258.46 L214.09,258.41 L214.25,258.36 L214.41,258.31 L214.57,258.24 L214.73,258.18 L214.89,258.10 L215.05,258.03 L215.21,257.94 L215.37,257.85 L215.53,257.76 L215.68,257.66 L215.83,257.56 L215.99,257.45 L216.14,257.33 L216.29,257.21 L216.44,257.09 L216.59,256.96 L216.73,256.82 L216.88,256.68 L217.02,256.54 L217.16,256.38 L217.30,256.23 L217.44,256.07 L217.57,255.90 L217.71,255.73 L217.84,255.55 L217.97,255.37 L218.10,255.19 L218.23,255.00 L218.35,254.80 L218.48,254.60 L218.60,254.40 L218.71,254.19 L218.83,253.97 L218.94,253.75 L219.06,253.53 L219.16,253.30 L219.27,253.06 L219.38,252.83 L219.48,252.58 L219.58,252.34 L219.68,252.08 L219.77,251.83 L219.86,251.57 L219.95,251.30 L220.04,251.03 L220.13,250.76 L220.21,250.48 L220.29,250.20 L220.37,249.91 L220.44,249.62 L220.51,249.32 L220.58,249.02 L220.65,248.72 L220.71,248.41 L220.77,248.10 L220.83,247.78 L220.89,247.47 L220.94,247.14 L220.99,246.81 L221.04,246.48 L221.08,246.15 L221.13,245.81 L221.17,245.47 L221.20,245.12 L221.24,244.77 L221.27,244.42 L221.30,244.06 L221.32,243.70 L221.34,243.33 L221.36,242.97 L221.38,242.59 L221.40,242.22 L221.41,241.84 L221.42,241.46 L221.42,241.07 L221.43,240.69 L221.43,240.30 L221.43,239.90 L221.42,239.50 L221.42,239.10 L221.41,238.70 L221.39,238.29 L221.38,237.88 L221.36,237.47 L221.34,237.05 L221.32,236.64 L221.29,236.21 L221.27,235.79 L221.23,235.36 L221.20,234.93 L221.17,234.50 L221.13,234.07 L221.09,233.63 L221.05,233.19 L221.00,232.75 L220.95,232.30 L220.90,231.85 L220.85,231.40 L220.80,230.95 L220.74,230.50 L220.68,230.04 L220.62,229.58 L220.55,229.12 L220.49,228.65 L220.42,228.19 L220.35,227.72 L220.28,227.25 L220.20,226.78 L220.13,226.30 L220.05,225.82 L219.97,225.35 L219.88,224.87 L219.80,224.38 L219.71,223.90 L219.62,223.41 L219.53,222.92 L219.44,222.44 L219.35,221.94 L219.25,221.45 L219.15,220.96 L219.05,220.46 L218.95,219.96 L218.85,219.46 L218.75,218.96 L218.64,218.46 L218.53,217.96 L218.42,217.45 L218.31,216.94 L218.20,216.43 L218.09,215.93 L217.97,215.41 L217.85,214.90 L217.74,214.39 L217.62,213.88 L217.50,213.36 L217.38,212.84 L217.25,212.33 L217.13,211.81 L217.00,211.29 L216.88,210.77 L216.75,210.24 L216.62,209.72 L216.49,209.20 L216.36,208.67 L216.23,208.15 L216.10,207.62 L215.97,207.10 L215.83,206.57 L215.70,206.04 L215.56,205.51 L215.43,204.98 L215.29,204.45 L215.15,203.92 L215.01,203.39 L214.87,202.86 L214.73,202.32 L214.59,201.79 L214.45,201.26 L214.31,200.72 L214.17,200.19 L214.03,199.66 L213.89,199.12 L213.75,198.59 L213.60,198.05 L213.46,197.52 L213.32,196.98 L213.17,196.44 L213.03,195.91 L212.89,195.37 L212.74,194.84 L212.60,194.30Z" fill="none" stroke="#40c040" stroke-width="2.0" stroke-linejoin="round"/>
<g font-family="Liberation Sans, Arial, Helvetica, sans-serif" font-size="11" fill="#111"><text x="212.60" y="128.57" text-anchor="middle">30</text><text x="212.60" y="268.63" text-anchor="middle">30</text></g>
<path d="M212.60,194.30 L212.35,193.61 L212.10,192.92 L211.85,192.23 L211.60,191.54 L211.35,190.85 L211.10,190.17 L210.85,189.48 L210.60,188.79 L210.35,188.10 L210.10,187.41 L209.85,186.73 L209.60,186.04 L209.36,185.35 L209.11,184.67 L208.87,183.98 L208.62,183.29 L208.38,182.61 L208.14,181.92 L207.89,181.24 L207.65,180.56 L207.41,179.87 L207.17,179.19 L206.94,178.51 L206.70,177.83 L206.46,177.15 L206.23,176.47 L206.00,175.79 L205.77,175.12 L205.54,174.44 L205.31,173.76 L205.08,173.09 L204.86,172.42 L204.63,171.74 L204.41,171.07 L204.19,170.40 L203.97,169.73 L203.76,169.06 L203.54,168.40 L203.33,167.73 L203.12,167.07 L202.91,166.40 L202.71,165.74 L202.50,165.08 L202.30,164.42 L202.10,163.76 L201.91,163.11 L201.71,162.45 L201.52,161.80 L201.33,161.15 L201.14,160.50 L200.96,159.85 L200.78,159.20 L200.60,158.56 L200.42,157.92 L200.25,157.28 L200.08,156.64 L199.91,156.00 L199.75,155.36 L199.59,154.73 L199.43,154.10 L199.28,153.47 L199.12,152.84 L198.98,152.22 L198.83,151.59 L198.69,150.97 L198.55,150.36 L198.42,149.74 L198.29,149.13 L198.16,148.52 L198.04,147.91 L197.92,147.30 L197.80,146.70 L197.69,146.10 L197.58,145.50 L197.48,144.90 L197.38,144.31 L197.28,143.72 L197.19,143.13 L197.10,142.55 L197.02,141.97 L196.94,141.39 L196.86,140.81 L196.79,140.24 L196.72,139.67 L196.66,139.11 L196.60,138.54 L196.55,137.99 L196.50,137.43 L196.46,136.88 L196.42,136.33 L196.38,135.78 L196.35,135.24 L196.33,134.70 L196.31,134.17 L196.29,133.64 L196.28,133.11 L196.28,132.59 L196.28,132.07 L196.28,131.55 L196.29,131.04 L196.30,130.54 L196.32,130.03 L196.35,129.53 L196.38,129.04 L196.41,128.55 L196.45,128.06 L196.50,127.58 L196.55,127.11 L196.61,126.64 L196.67,126.17 L196.74,125.71 L196.81,125.25 L196.89,124.79 L196.97,124.35 L197.06,123.90 L197.15,123.47 L197.25,123.03 L197.35,122.60 L197.46,122.18 L197.58,121.76 L197.70,121.35 L197.83,120.94 L197.96,120.54 L198.09,120.15 L198.24,119.76 L198.38,119.37 L198.54,118.99 L198.69,118.62 L198.86,118.25 L199.03,117.89 L199.20,117.54 L199.38,117.19 L199.56,116.84 L199.75,116.51 L199.95,116.18 L200.15,115.85 L200.35,115.53 L200.56,115.22 L200.77,114.92 L200.99,114.62 L201.21,114.32 L201.44,114.04 L201.67,113.76 L201.91,113.49 L202.15,113.22 L202.40,112.96 L202.65,112.71 L202.90,112.47 L203.16,112.23 L203.42,112.00 L203.69,111.77 L203.96,111.56 L204.23,111.35 L204.51,111.14 L204.79,110.95 L205.08,110.76 L205.37,110.58 L205.66,110.41 L205.95,110.24 L206.25,110.08 L206.55,109.93 L206.85,109.79 L207.15,109.65 L207.46,109.52 L207.77,109.40 L208.08,109.29 L208.40,109.19 L208.71,109.09 L209.03,109.00 L209.35,108.92 L209.67,108.84 L209.99,108.77 L210.32,108.72 L210.64,108.67 L210.97,108.62 L211.29,108.59 L211.62,108.56 L211.95,108.54 L212.27,108.53 L212.60,108.52 L212.93,108.53 L213.25,108.54 L213.58,108.56 L213.91,108.59 L214.23,108.62 L214.56,108.67 L214.88,108.72 L215.21,108.77 L215.53,108.84 L215.85,108.92 L216.17,109.00 L216.49,109.09 L216.80,109.19 L217.12,109.29 L217.43,109.40 L217.74,109.52 L218.05,109.65 L218.35,109.79 L218.65,109.93 L218.95,110.08 L219.25,110.24 L219.54,110.41 L219.83,110.58 L220.12,110.76 L220.41,110.95 L220.69,111.14 L220.97,111.35 L221.24,111.56 L221.51,111.77 L221.78,112.00 L222.04,112.23 L222.30,112.47 L222.55,112.71 L222.80,112.96 L223.05,113.22 L223.29,113.49 L223.53,113.76 L223.76,114.04 L223.99,114.32 L224.21,114.62 L224.43,114.92 L224.64,115.22 L224.85,115.53 L225.05,115.85 L225.25,116.18 L225.45,116.51 L225.64,116.84 L225.82,117.19 L226.00,117.54 L226.17,117.89 L226.34,118.25 L226.51,118.62 L226.66,118.99 L226.82,119.37 L226.96,119.76 L227.11,120.15 L227.24,120.54 L227.37,120.94 L227.50,121.35 L227.62,121.76 L227.74,122.18 L227.85,122.60 L227.95,123.03 L228.05,123.47 L228.14,123.90 L228.23,124.35 L228.31,124.79 L228.39,125.25 L228.46,125.71 L228.53,126.17 L228.59,126.64 L228.65,127.11 L228.70,127.58 L228.75,128.06 L228.79,128.55 L228.82,129.04 L228.85,129.53 L228.88,130.03 L228.90,130.54 L228.91,131.04 L228.92,131.55 L228.92,132.07 L228.92,132.59 L228.92,133.11 L228.91,133.64 L228.89,134.17 L228.87,134.70 L228.85,135.24 L228.82,135.78 L228.78,136.33 L228.74,136.88 L228.70,137.43 L228.65,137.99 L228.60,138.54 L228.54,139.11 L228.48,139.67 L228.41,140.24 L228.34,140.81 L228.26,141.39 L228.18,141.97 L228.10,142.55 L228.01,143.13 L227.92,143.72 L227.82,144.31 L227.72,144.90 L227.62,145.50 L227.51,146.10 L227.40,146.70 L227.28,147.30 L227.16,147.91 L227.04,148.52 L226.91,149.13 L226.78,149.74 L226.65,150.36 L226.51,150.97 L226.37,151.59 L226.22,152.22 L226.08,152.84 L225.92,153.47 L225.77,154.10 L225.61,154.73 L225.45,155.36 L225.29,156.00 L225.12,156.64 L224.95,157.28 L224.78,157.92 L224.60,158.56 L224.42,159.20 L224.24,159.85 L224.06,160.50 L223.87,161.15 L223.68,161.80 L223.49,162.45 L223.29,163.11 L223.10,163.76 L222.90,164.42 L222.70,165.08 L222.49,165.74 L222.29,166.40 L222.08,167.07 L221.87,167.73 L221.66,168.40 L221.44,169.06 L221.23,169.73 L221.01,170.40 L220.79,171.07 L220.57,171.74 L220.34,172.42 L220.12,173.09 L219.89,173.76 L219.66,174.44 L219.43,175.12 L219.20,175.79 L218.97,176.47 L218.74,177.15 L218.50,177.83 L218.26,178.51 L218.03,179.19 L217.79,179.87 L217.55,180.56 L217.31,181.24 L217.06,181.92 L216.82,182.61 L216.58,183.29 L216.33,183.98 L216.09,184.67 L215.84,185.35 L215.60,186.04 L215.35,186.73 L215.10,187.41 L214.85,188.10 L214.60,188.79 L214.35,189.48 L214.10,190.17 L213.85,190.85 L213.60,191.54 L213.35,192.23 L213.10,192.92 L212.85,193.61 L212.60,194.30 L212.35,194.99 L212.10,195.68 L211.85,196.37 L211.60,197.06 L211.35,197.75 L211.10,198.43 L210.85,199.12 L210.60,199.81 L210.35,200.50 L210.10,201.19 L209.85,201.87 L209.60,202.56 L209.36,203.25 L209.11,203.93 L208.87,204.62 L208.62,205.31 L208.38,205.99 L208.14,206.68 L207.89,207.36 L207.65,208.04 L207.41,208.73 L207.17,209.41 L206.94,210.09 L206.70,210.77 L206.46,211.45 L206.23,212.13 L206.00,212.81 L205.77,213.48 L205.54,214.16 L205.31,214.84 L205.08,215.51 L204.86,216.18 L204.63,216.86 L204.41,217.53 L204.19,218.20 L203.97,218.87 L203.76,219.54 L203.54,220.20 L203.33,220.87 L203.12,221.53 L202.91,222.20 L202.71,222.86 L202.50,223.52 L202.30,224.18 L202.10,224.84 L201.91,225.49 L201.71,226.15 L201.52,226.80 L201.33,227.45 L201.14,228.10 L200.96,228.75 L200.78,229.40 L200.60,230.04 L200.42,230.68 L200.25,231.32 L200.08,231.96 L199.91,232.60 L199.75,233.24 L199.59,233.87 L199.43,234.50 L199.28,235.13 L199.12,235.76 L198.98,236.38 L198.83,237.01 L198.69,237.63 L198.55,238.24 L198.42,238.86 L198.29,239.47 L198.16,240.08 L198.04,240.69 L197.92,241.30 L197.80,241.90 L197.69,242.50 L197.58,243.10 L197.48,243.70 L197.38,244.29 L197.28,244.88 L197.19,245.47 L197.10,246.05 L197.02,246.63 L196.94,247.21 L196.86,247.79 L196.79,248.36 L196.72,248.93 L196.66,249.49 L196.60,250.06 L196.55,250.61 L196.50,251.17 L196.46,251.72 L196.42,252.27 L196.38,252.82 L196.35,253.36 L196.33,253.90 L196.31,254.43 L196.29,254.96 L196.28,255.49 L196.28,256.01 L196.28,256.53 L196.28,257.05 L196.29,257.56 L196.30,258.06 L196.32,258.57 L196.35,259.07 L196.38,259.56 L196.41,260.05 L196.45,260.54 L196.50,261.02 L196.55,261.49 L196.61,261.96 L196.67,262.43 L196.74,262.89 L196.81,263.35 L196.89,263.81 L196.97,264.25 L197.06,264.70 L197.15,265.13 L197.25,265.57 L197.35,266.00 L197.46,266.42 L197.58,266.84 L197.70,267.25 L197.83,267.66 L197.96,268.06 L198.09,268.45 L198.24,268.84 L198.38,269.23 L198.54,269.61 L198.69,269.98 L198.86,270.35 L199.03,270.71 L199.20,271.06 L199.38,271.41 L199.56,271.76 L199.75,272.09 L199.95,272.42 L200.15,272.75 L200.35,273.07 L200.56,273.38 L200.77,273.68 L200.99,273.98 L201.21,274.28 L201.44,274.56 L201.67,274.84 L201.91,275.11 L202.15,275.38 L202.40,275.64 L202.65,275.89 L202.90,276.13 L203.16,276.37 L203.42,276.60 L203.69,276.83 L203.96,277.04 L204.23,277.25 L204.51,277.46 L204.79,277.65 L205.08,277.84 L205.37,278.02 L205.66,278.19 L205.95,278.36 L206.25,278.52 L206.55,278.67 L206.85,278.81 L207.15,278.95 L207.46,279.08 L207.77,279.20 L208.08,279.31 L208.40,279.41 L208.71,279.51 L209.03,279.60 L209.35,279.68 L209.67,279.76 L209.99,279.83 L210.32,279.88 L210.64,279.93 L210.97,279.98 L211.29,280.01 L211.62,280.04 L211.95,280.06 L212.27,280.07 L212.60,280.08 L212.93,280.07 L213.25,280.06 L213.58,280.04 L213.91,280.01 L214.23,279.98 L214.56,279.93 L214.88,279.88 L215.21,279.83 L215.53,279.76 L215.85,279.68 L216.17,279.60 L216.49,279.51 L216.80,279.41 L217.12,279.31 L217.43,279.20 L217.74,279.08 L218.05,278.95 L218.35,278.81 L218.65,278.67 L218.95,278.52 L219.25,278.36 L219.54,278.19 L219.83,278.02 L220.12,277.84 L220.41,277.65 L220.69,277.46 L220.97,277.25 L221.24,277.04 L221.51,276.83 L221.78,276.60 L222.04,276.37 L222.30,276.13 L222.55,275.89 L222.80,275.64 L223.05,275.38 L223.29,275.11 L223.53,274.84 L223.76,274.56 L223.99,274.28 L224.21,273.98 L224.43,273.68 L224.64,273.38 L224.85,273.07 L225.05,272.75 L225.25,272.42 L225.45,272.09 L225.64,271.76 L225.82,271.41 L226.00,271.06 L226.17,270.71 L226.34,270.35 L226.51,269.98 L226.66,269.61 L226.82,269.23 L226.96,268.84 L227.11,268.45 L227.24,268.06 L227.37,267.66 L227.50,267.25 L227.62,266.84 L227.74,266.42 L227.85,266.00 L227.95,265.57 L228.05,265.13 L228.14,264.70 L228.23,264.25 L228.31,263.81 L228.39,263.35 L228.46,262.89 L228.53,262.43 L228.59,261.96 L228.65,261.49 L228.70,261.02 L228.75,260.54 L228.79,260.05 L228.82,259.56 L228.85,259.07 L228.88,258.57 L228.90,258.06 L228.91,257.56 L228.92,257.05 L228.92,256.53 L228.92,256.01 L228.92,255.49 L228.91,254.96 L228.89,254.43 L228.87,253.90 L228.85,253.36 L228.82,252.82 L228.78,252.27 L228.74,251.72 L228.70,251.17 L228.65,250.61 L228.60,250.06 L228.54,249.49 L228.48,248.93 L228.41,248.36 L228.34,247.79 L228.26,247.21 L228.18,246.63 L228.10,246.05 L228.01,245.47 L227.92,244.88 L227.82,244.29 L227.72,243.70 L227.62,243.10 L227.51,242.50 L227.40,241.90 L227.28,241.30 L227.16,240.69 L227.04,240.08 L226.91,239.47 L226.78,238.86 L226.65,238.24 L226.51,237.63 L226.37,237.01 L226.22,236.38 L226.08,235.76 L225.92,235.13 L225.77,234.50 L225.61,233.87 L225.45,233.24 L225.29,232.60 L225.12,231.96 L224.95,231.32 L224.78,230.68 L224.60,230.04 L224.42,229.40 L224.24,228.75 L224.06,228.10 L223.87,227.45 L223.68,226.80 L223.49,226.15 L223.29,225.49 L223.10,224.84 L222.90,224.18 L222.70,223.52 L222.49,222.86 L222.29,222.20 L222.08,221.53 L221.87,220.87 L221.66,220.20 L221.44,219.54 L221.23,218.87 L221.01,218.20 L220.79,217.53 L220.57,216.86 L220.34,216.18 L220.12,215.51 L219.89,214.84 L219.66,214.16 L219.43,213.48 L219.20,212.81 L218.97,212.13 L218.74,211.45 L218.50,210.77 L218.26,210.09 L218.03,209.41 L217.79,208.73 L217.55,208.04 L217.31,207.36 L217.06,206.68 L216.82,205.99 L216.58,205.31 L216.33,204.62 L216.09,203.93 L215.84,203.25 L215.60,202.56 L215.35,201.87 L215.10,201.19 L214.85,200.50 L214.60,199.81 L214.35,199.12 L214.10,198.43 L213.85,197.75 L213.60,197.06 L213.35,196.37 L213.10,195.68 L212.85,194.99 L212.60,194.30Z" fill="none" stroke="#1a2ea0" stroke-width="2.0" stroke-linejoin="round"/>
<g font-family="Liberation Sans, Arial, Helvetica, sans-serif" font-size="11" fill="#111"><text x="212.60" y="107.12" text-anchor="middle">40</text><text x="212.60" y="290.08" text-anchor="middle">40</text></g>
<path d="M212.60,194.30 L212.22,193.48 L211.83,192.66 L211.45,191.84 L211.07,191.01 L210.69,190.19 L210.30,189.37 L209.92,188.55 L209.54,187.73 L209.16,186.91 L208.78,186.09 L208.40,185.27 L208.02,184.45 L207.64,183.63 L207.27,182.81 L206.89,181.99 L206.51,181.18 L206.14,180.36 L205.77,179.54 L205.39,178.72 L205.02,177.91 L204.65,177.09 L204.28,176.28 L203.92,175.46 L203.55,174.65 L203.19,173.83 L202.82,173.02 L202.46,172.21 L202.10,171.40 L201.75,170.59 L201.39,169.78 L201.04,168.97 L200.68,168.16 L200.33,167.35 L199.99,166.55 L199.64,165.74 L199.30,164.94 L198.96,164.13 L198.62,163.33 L198.28,162.53 L197.95,161.73 L197.62,160.93 L197.29,160.13 L196.96,159.33 L196.64,158.54 L196.32,157.74 L196.01,156.95 L195.69,156.16 L195.38,155.37 L195.07,154.58 L194.77,153.79 L194.47,153.01 L194.17,152.22 L193.88,151.44 L193.59,150.66 L193.30,149.88 L193.02,149.10 L192.74,148.32 L192.47,147.55 L192.20,146.78 L191.93,146.01 L191.67,145.24 L191.41,144.47 L191.15,143.70 L190.91,142.94 L190.66,142.18 L190.42,141.42 L190.19,140.66 L189.95,139.91 L189.73,139.16 L189.51,138.41 L189.29,137.66 L189.08,136.91 L188.88,136.17 L188.68,135.43 L188.48,134.69 L188.30,133.96 L188.11,133.22 L187.93,132.49 L187.76,131.77 L187.60,131.04 L187.44,130.32 L187.29,129.60 L187.14,128.89 L187.00,128.18 L186.86,127.47 L186.74,126.76 L186.62,126.06 L186.50,125.36 L186.39,124.66 L186.29,123.97 L186.20,123.28 L186.11,122.59 L186.04,121.91 L185.96,121.23 L185.90,120.56 L185.84,119.89 L185.79,119.22 L185.75,118.56 L185.72,117.90 L185.70,117.25 L185.68,116.60 L185.67,115.95 L185.67,115.31 L185.68,114.67 L185.69,114.04 L185.72,113.42 L185.75,112.79 L185.79,112.18 L185.85,111.56 L185.91,110.95 L185.98,110.35 L186.05,109.76 L186.14,109.16 L186.24,108.58 L186.34,108.00 L186.46,107.42 L186.58,106.85 L186.72,106.29 L186.86,105.73 L187.02,105.18 L187.18,104.63 L187.35,104.09 L187.54,103.56 L187.73,103.03 L187.93,102.51 L188.15,102.00 L188.37,101.49 L188.60,100.99 L188.85,100.50 L189.10,100.01 L189.36,99.53 L189.64,99.06 L189.92,98.60 L190.21,98.14 L190.52,97.69 L190.83,97.25 L191.15,96.82 L191.49,96.39 L191.83,95.98 L192.18,95.57 L192.55,95.17 L192.92,94.78 L193.30,94.39 L193.70,94.02 L194.10,93.65 L194.51,93.29 L194.93,92.95 L195.36,92.61 L195.79,92.28 L196.24,91.96 L196.70,91.64 L197.16,91.34 L197.63,91.05 L198.11,90.77 L198.60,90.49 L199.09,90.23 L199.60,89.98 L200.11,89.74 L200.63,89.50 L201.15,89.28 L201.68,89.07 L202.22,88.87 L202.76,88.68 L203.31,88.50 L203.86,88.33 L204.42,88.17 L204.98,88.02 L205.55,87.88 L206.12,87.75 L206.70,87.64 L207.28,87.53 L207.86,87.44 L208.45,87.35 L209.04,87.28 L209.63,87.22 L210.22,87.17 L210.81,87.13 L211.41,87.10 L212.00,87.09 L212.60,87.08 L213.20,87.09 L213.79,87.10 L214.39,87.13 L214.98,87.17 L215.57,87.22 L216.16,87.28 L216.75,87.35 L217.34,87.44 L217.92,87.53 L218.50,87.64 L219.08,87.75 L219.65,87.88 L220.22,88.02 L220.78,88.17 L221.34,88.33 L221.89,88.50 L222.44,88.68 L222.98,88.87 L223.52,89.07 L224.05,89.28 L224.57,89.50 L225.09,89.74 L225.60,89.98 L226.11,90.23 L226.60,90.49 L227.09,90.77 L227.57,91.05 L228.04,91.34 L228.50,91.64 L228.96,91.96 L229.41,92.28 L229.84,92.61 L230.27,92.95 L230.69,93.29 L231.10,93.65 L231.50,94.02 L231.90,94.39 L232.28,94.78 L232.65,95.17 L233.02,95.57 L233.37,95.98 L233.71,96.39 L234.05,96.82 L234.37,97.25 L234.68,97.69 L234.99,98.14 L235.28,98.60 L235.56,99.06 L235.84,99.53 L236.10,100.01 L236.35,100.50 L236.60,100.99 L236.83,101.49 L237.05,102.00 L237.27,102.51 L237.47,103.03 L237.66,103.56 L237.85,104.09 L238.02,104.63 L238.18,105.18 L238.34,105.73 L238.48,106.29 L238.62,106.85 L238.74,107.42 L238.86,108.00 L238.96,108.58 L239.06,109.16 L239.15,109.76 L239.22,110.35 L239.29,110.95 L239.35,111.56 L239.41,112.18 L239.45,112.79 L239.48,113.42 L239.51,114.04 L239.52,114.67 L239.53,115.31 L239.53,115.95 L239.52,116.60 L239.50,117.25 L239.48,117.90 L239.45,118.56 L239.41,119.22 L239.36,119.89 L239.30,120.56 L239.24,121.23 L239.16,121.91 L239.09,122.59 L239.00,123.28 L238.91,123.97 L238.81,124.66 L238.70,125.36 L238.58,126.06 L238.46,126.76 L238.34,127.47 L238.20,128.18 L238.06,128.89 L237.91,129.60 L237.76,130.32 L237.60,131.04 L237.44,131.77 L237.27,132.49 L237.09,133.22 L236.90,133.96 L236.72,134.69 L236.52,135.43 L236.32,136.17 L236.12,136.91 L235.91,137.66 L235.69,138.41 L235.47,139.16 L235.25,139.91 L235.01,140.66 L234.78,141.42 L234.54,142.18 L234.29,142.94 L234.05,143.70 L233.79,144.47 L233.53,145.24 L233.27,146.01 L233.00,146.78 L232.73,147.55 L232.46,148.32 L232.18,149.10 L231.90,149.88 L231.61,150.66 L231.32,151.44 L231.03,152.22 L230.73,153.01 L230.43,153.79 L230.13,154.58 L229.82,155.37 L229.51,156.16 L229.19,156.95 L228.88,157.74 L228.56,158.54 L228.24,159.33 L227.91,160.13 L227.58,160.93 L227.25,161.73 L226.92,162.53 L226.58,163.33 L226.24,164.13 L225.90,164.94 L225.56,165.74 L225.21,166.55 L224.87,167.35 L224.52,168.16 L224.16,168.97 L223.81,169.78 L223.45,170.59 L223.10,171.40 L222.74,172.21 L222.38,173.02 L222.01,173.83 L221.65,174.65 L221.28,175.46 L220.92,176.28 L220.55,177.09 L220.18,177.91 L219.81,178.72 L219.43,179.54 L219.06,180.36 L218.69,181.18 L218.31,181.99 L217.93,182.81 L217.56,183.63 L217.18,184.45 L216.80,185.27 L216.42,186.09 L216.04,186.91 L215.66,187.73 L215.28,188.55 L214.90,189.37 L214.51,190.19 L214.13,191.01 L213.75,191.84 L213.37,192.66 L212.98,193.48 L212.60,194.30 L212.22,195.12 L211.83,195.94 L211.45,196.76 L211.07,197.59 L210.69,198.41 L210.30,199.23 L209.92,200.05 L209.54,200.87 L209.16,201.69 L208.78,202.51 L208.40,203.33 L208.02,204.15 L207.64,204.97 L207.27,205.79 L206.89,206.61 L206.51,207.42 L206.14,208.24 L205.77,209.06 L205.39,209.88 L205.02,210.69 L204.65,211.51 L204.28,212.32 L203.92,213.14 L203.55,213.95 L203.19,214.77 L202.82,215.58 L202.46,216.39 L202.10,217.20 L201.75,218.01 L201.39,218.82 L201.04,219.63 L200.68,220.44 L200.33,221.25 L199.99,222.05 L199.64,222.86 L199.30,223.66 L198.96,224.47 L198.62,225.27 L198.28,226.07 L197.95,226.87 L197.62,227.67 L197.29,228.47 L196.96,229.27 L196.64,230.06 L196.32,230.86 L196.01,231.65 L195.69,232.44 L195.38,233.23 L195.07,234.02 L194.77,234.81 L194.47,235.59 L194.17,236.38 L193.88,237.16 L193.59,237.94 L193.30,238.72 L193.02,239.50 L192.74,240.28 L192.47,241.05 L192.20,241.82 L191.93,242.59 L191.67,243.36 L191.41,244.13 L191.15,244.90 L190.91,245.66 L190.66,246.42 L190.42,247.18 L190.19,247.94 L189.95,248.69 L189.73,249.44 L189.51,250.19 L189.29,250.94 L189.08,251.69 L188.88,252.43 L188.68,253.17 L188.48,253.91 L188.30,254.64 L188.11,255.38 L187.93,256.11 L187.76,256.83 L187.60,257.56 L187.44,258.28 L187.29,259.00 L187.14,259.71 L187.00,260.42 L186.86,261.13 L186.74,261.84 L186.62,262.54 L186.50,263.24 L186.39,263.94 L186.29,264.63 L186.20,265.32 L186.11,266.01 L186.04,266.69 L185.96,267.37 L185.90,268.04 L185.84,268.71 L185.79,269.38 L185.75,270.04 L185.72,270.70 L185.70,271.35 L185.68,272.00 L185.67,272.65 L185.67,273.29 L185.68,273.93 L185.69,274.56 L185.72,275.18 L185.75,275.81 L185.79,276.42 L185.85,277.04 L185.91,277.65 L185.98,278.25 L186.05,278.84 L186.14,279.44 L186.24,280.02 L186.34,280.60 L186.46,281.18 L186.58,281.75 L186.72,282.31 L186.86,282.87 L187.02,283.42 L187.18,283.97 L187.35,284.51 L187.54,285.04 L187.73,285.57 L187.93,286.09 L188.15,286.60 L188.37,287.11 L188.60,287.61 L188.85,288.10 L189.10,288.59 L189.36,289.07 L189.64,289.54 L189.92,290.00 L190.21,290.46 L190.52,290.91 L190.83,291.35 L191.15,291.78 L191.49,292.21 L191.83,292.62 L192.18,293.03 L192.55,293.43 L192.92,293.82 L193.30,294.21 L193.70,294.58 L194.10,294.95 L194.51,295.31 L194.93,295.65 L195.36,295.99 L195.79,296.32 L196.24,296.64 L196.70,296.96 L197.16,297.26 L197.63,297.55 L198.11,297.83 L198.60,298.11 L199.09,298.37 L199.60,298.62 L200.11,298.86 L200.63,299.10 L201.15,299.32 L201.68,299.53 L202.22,299.73 L202.76,299.92 L203.31,300.10 L203.86,300.27 L204.42,300.43 L204.98,300.58 L205.55,300.72 L206.12,300.85 L206.70,300.96 L207.28,301.07 L207.86,301.16 L208.45,301.25 L209.04,301.32 L209.63,301.38 L210.22,301.43 L210.81,301.47 L211.41,301.50 L212.00,301.51 L212.60,301.52 L213.20,301.51 L213.79,301.50 L214.39,301.47 L214.98,301.43 L215.57,301.38 L216.16,301.32 L216.75,301.25 L217.34,301.16 L217.92,301.07 L218.50,300.96 L219.08,300.85 L219.65,300.72 L220.22,300.58 L220.78,300.43 L221.34,300.27 L221.89,300.10 L222.44,299.92 L222.98,299.73 L223.52,299.53 L224.05,299.32 L224.57,299.10 L225.09,298.86 L225.60,298.62 L226.11,298.37 L226.60,298.11 L227.09,297.83 L227.57,297.55 L228.04,297.26 L228.50,296.96 L228.96,296.64 L229.41,296.32 L229.84,295.99 L230.27,295.65 L230.69,295.31 L231.10,294.95 L231.50,294.58 L231.90,294.21 L232.28,293.82 L232.65,293.43 L233.02,293.03 L233.37,292.62 L233.71,292.21 L234.05,291.78 L234.37,291.35 L234.68,290.91 L234.99,290.46 L235.28,290.00 L235.56,289.54 L235.84,289.07 L236.10,288.59 L236.35,288.10 L236.60,287.61 L236.83,287.11 L237.05,286.60 L237.27,286.09 L237.47,285.57 L237.66,285.04 L237.85,284.51 L238.02,283.97 L238.18,283.42 L238.34,282.87 L238.48,282.31 L238.62,281.75 L238.74,281.18 L238.86,280.60 L238.96,280.02 L239.06,279.44 L239.15,278.84 L239.22,278.25 L239.29,277.65 L239.35,277.04 L239.41,276.42 L239.45,275.81 L239.48,275.18 L239.51,274.56 L239.52,273.93 L239.53,273.29 L239.53,272.65 L239.52,272.00 L239.50,271.35 L239.48,270.70 L239.45,270.04 L239.41,269.38 L239.36,268.71 L239.30,268.04 L239.24,267.37 L239.16,266.69 L239.09,266.01 L239.00,265.32 L238.91,264.63 L238.81,263.94 L238.70,263.24 L238.58,262.54 L238.46,261.84 L238.34,261.13 L238.20,260.42 L238.06,259.71 L237.91,259.00 L237.76,258.28 L237.60,257.56 L237.44,256.83 L237.27,256.11 L237.09,255.38 L236.90,254.64 L236.72,253.91 L236.52,253.17 L236.32,252.43 L236.12,251.69 L235.91,250.94 L235.69,250.19 L235.47,249.44 L235.25,248.69 L235.01,247.94 L234.78,247.18 L234.54,246.42 L234.29,245.66 L234.05,244.90 L233.79,244.13 L233.53,243.36 L233.27,242.59 L233.00,241.82 L232.73,241.05 L232.46,240.28 L232.18,239.50 L231.90,238.72 L231.61,237.94 L231.32,237.16 L231.03,236.38 L230.73,235.59 L230.43,234.81 L230.13,234.02 L229.82,233.23 L229.51,232.44 L229.19,231.65 L228.88,230.86 L228.56,230.06 L228.24,229.27 L227.91,228.47 L227.58,227.67 L227.25,226.87 L226.92,226.07 L226.58,225.27 L226.24,224.47 L225.90,223.66 L225.56,222.86 L225.21,222.05 L224.87,221.25 L224.52,220.44 L224.16,219.63 L223.81,218.82 L223.45,218.01 L223.10,217.20 L222.74,216.39 L222.38,215.58 L222.01,214.77 L221.65,213.95 L221.28,213.14 L220.92,212.32 L220.55,211.51 L220.18,210.69 L219.81,209.88 L219.43,209.06 L219.06,208.24 L218.69,207.42 L218.31,206.61 L217.93,205.79 L217.56,204.97 L217.18,204.15 L216.80,203.33 L216.42,202.51 L216.04,201.69 L215.66,200.87 L215.28,200.05 L214.90,199.23 L214.51,198.41 L214.13,197.59 L213.75,196.76 L213.37,195.94 L212.98,195.12 L212.60,194.30Z" fill="none" stroke="#70dcd8" stroke-width="2.0" stroke-linejoin="round"/>
<g font-family="Liberation Sans, Arial, Helvetica, sans-serif" font-size="11" fill="#111"><text x="212.60" y="85.68" text-anchor="middle">50</text><text x="212.60" y="311.52" text-anchor="middle">50</text></g>
<path d="M212.60,194.30 L212.06,193.37 L211.53,192.44 L210.99,191.51 L210.46,190.59 L209.92,189.66 L209.39,188.73 L208.85,187.80 L208.32,186.87 L207.78,185.95 L207.25,185.02 L206.72,184.09 L206.18,183.16 L205.65,182.24 L205.12,181.31 L204.59,180.38 L204.06,179.46 L203.54,178.53 L203.01,177.60 L202.48,176.68 L201.96,175.75 L201.44,174.83 L200.92,173.90 L200.40,172.98 L199.88,172.06 L199.36,171.13 L198.84,170.21 L198.33,169.29 L197.82,168.37 L197.31,167.45 L196.80,166.52 L196.29,165.60 L195.79,164.69 L195.28,163.77 L194.78,162.85 L194.28,161.93 L193.79,161.01 L193.30,160.10 L192.80,159.18 L192.32,158.27 L191.83,157.35 L191.35,156.44 L190.87,155.53 L190.39,154.62 L189.91,153.71 L189.44,152.80 L188.97,151.89 L188.51,150.98 L188.05,150.07 L187.59,149.17 L187.13,148.26 L186.68,147.36 L186.23,146.46 L185.79,145.55 L185.35,144.65 L184.91,143.75 L184.48,142.86 L184.05,141.96 L183.63,141.06 L183.21,140.17 L182.80,139.28 L182.39,138.39 L181.98,137.50 L181.58,136.61 L181.19,135.72 L180.80,134.83 L180.41,133.95 L180.03,133.07 L179.66,132.19 L179.29,131.31 L178.92,130.43 L178.57,129.56 L178.21,128.68 L177.87,127.81 L177.53,126.94 L177.20,126.07 L176.87,125.21 L176.55,124.34 L176.24,123.48 L175.93,122.62 L175.63,121.76 L175.34,120.91 L175.06,120.06 L174.78,119.21 L174.51,118.36 L174.25,117.51 L174.00,116.67 L173.75,115.83 L173.51,114.99 L173.29,114.16 L173.07,113.32 L172.86,112.50 L172.66,111.67 L172.47,110.85 L172.28,110.03 L172.11,109.21 L171.95,108.40 L171.80,107.59 L171.66,106.78 L171.53,105.98 L171.41,105.18 L171.30,104.38 L171.20,103.59 L171.11,102.80 L171.04,102.02 L170.97,101.24 L170.92,100.46 L170.89,99.69 L170.86,98.92 L170.85,98.16 L170.85,97.40 L170.86,96.65 L170.89,95.90 L170.93,95.16 L170.99,94.42 L171.06,93.69 L171.14,92.96 L171.24,92.24 L171.35,91.52 L171.48,90.81 L171.63,90.10 L171.79,89.40 L171.97,88.71 L172.16,88.02 L172.37,87.35 L172.60,86.67 L172.84,86.01 L173.10,85.35 L173.38,84.69 L173.68,84.05 L173.99,83.41 L174.33,82.78 L174.68,82.16 L175.05,81.55 L175.44,80.94 L175.85,80.35 L176.27,79.76 L176.72,79.18 L177.19,78.61 L177.67,78.05 L178.18,77.50 L178.70,76.96 L179.25,76.42 L179.81,75.90 L180.40,75.39 L181.00,74.89 L181.63,74.40 L182.27,73.92 L182.93,73.45 L183.62,73.00 L184.32,72.55 L185.05,72.12 L185.79,71.70 L186.55,71.29 L187.33,70.90 L188.13,70.51 L188.95,70.14 L189.78,69.79 L190.63,69.44 L191.50,69.11 L192.39,68.80 L193.29,68.50 L194.21,68.21 L195.14,67.94 L196.09,67.68 L197.05,67.43 L198.02,67.20 L199.01,66.99 L200.01,66.79 L201.02,66.61 L202.04,66.44 L203.07,66.29 L204.11,66.15 L205.15,66.03 L206.20,65.93 L207.26,65.84 L208.32,65.77 L209.39,65.71 L210.46,65.67 L211.53,65.64 L212.60,65.64 L213.67,65.64 L214.74,65.67 L215.81,65.71 L216.88,65.77 L217.94,65.84 L219.00,65.93 L220.05,66.03 L221.09,66.15 L222.13,66.29 L223.16,66.44 L224.18,66.61 L225.19,66.79 L226.19,66.99 L227.18,67.20 L228.15,67.43 L229.11,67.68 L230.06,67.94 L230.99,68.21 L231.91,68.50 L232.81,68.80 L233.70,69.11 L234.57,69.44 L235.42,69.79 L236.25,70.14 L237.07,70.51 L237.87,70.90 L238.65,71.29 L239.41,71.70 L240.15,72.12 L240.88,72.55 L241.58,73.00 L242.27,73.45 L242.93,73.92 L243.57,74.40 L244.20,74.89 L244.80,75.39 L245.39,75.90 L245.95,76.42 L246.50,76.96 L247.02,77.50 L247.53,78.05 L248.01,78.61 L248.48,79.18 L248.93,79.76 L249.35,80.35 L249.76,80.94 L250.15,81.55 L250.52,82.16 L250.87,82.78 L251.21,83.41 L251.52,84.05 L251.82,84.69 L252.10,85.35 L252.36,86.01 L252.60,86.67 L252.83,87.35 L253.04,88.02 L253.23,88.71 L253.41,89.40 L253.57,90.10 L253.72,90.81 L253.85,91.52 L253.96,92.24 L254.06,92.96 L254.14,93.69 L254.21,94.42 L254.27,95.16 L254.31,95.90 L254.34,96.65 L254.35,97.40 L254.35,98.16 L254.34,98.92 L254.31,99.69 L254.28,100.46 L254.23,101.24 L254.16,102.02 L254.09,102.80 L254.00,103.59 L253.90,104.38 L253.79,105.18 L253.67,105.98 L253.54,106.78 L253.40,107.59 L253.25,108.40 L253.09,109.21 L252.92,110.03 L252.73,110.85 L252.54,111.67 L252.34,112.50 L252.13,113.32 L251.91,114.16 L251.69,114.99 L251.45,115.83 L251.20,116.67 L250.95,117.51 L250.69,118.36 L250.42,119.21 L250.14,120.06 L249.86,120.91 L249.57,121.76 L249.27,122.62 L248.96,123.48 L248.65,124.34 L248.33,125.21 L248.00,126.07 L247.67,126.94 L247.33,127.81 L246.99,128.68 L246.63,129.56 L246.28,130.43 L245.91,131.31 L245.54,132.19 L245.17,133.07 L244.79,133.95 L244.40,134.83 L244.01,135.72 L243.62,136.61 L243.22,137.50 L242.81,138.39 L242.40,139.28 L241.99,140.17 L241.57,141.06 L241.15,141.96 L240.72,142.86 L240.29,143.75 L239.85,144.65 L239.41,145.55 L238.97,146.46 L238.52,147.36 L238.07,148.26 L237.61,149.17 L237.15,150.07 L236.69,150.98 L236.23,151.89 L235.76,152.80 L235.29,153.71 L234.81,154.62 L234.33,155.53 L233.85,156.44 L233.37,157.35 L232.88,158.27 L232.40,159.18 L231.90,160.10 L231.41,161.01 L230.92,161.93 L230.42,162.85 L229.92,163.77 L229.41,164.69 L228.91,165.60 L228.40,166.52 L227.89,167.45 L227.38,168.37 L226.87,169.29 L226.36,170.21 L225.84,171.13 L225.32,172.06 L224.80,172.98 L224.28,173.90 L223.76,174.83 L223.24,175.75 L222.72,176.68 L222.19,177.60 L221.66,178.53 L221.14,179.46 L220.61,180.38 L220.08,181.31 L219.55,182.24 L219.02,183.16 L218.48,184.09 L217.95,185.02 L217.42,185.95 L216.88,186.87 L216.35,187.80 L215.81,188.73 L215.28,189.66 L214.74,190.59 L214.21,191.51 L213.67,192.44 L213.14,193.37 L212.60,194.30 L212.06,195.23 L211.53,196.16 L210.99,197.09 L210.46,198.01 L209.92,198.94 L209.39,199.87 L208.85,200.80 L208.32,201.73 L207.78,202.65 L207.25,203.58 L206.72,204.51 L206.18,205.44 L205.65,206.36 L205.12,207.29 L204.59,208.22 L204.06,209.14 L203.54,210.07 L203.01,211.00 L202.48,211.92 L201.96,212.85 L201.44,213.77 L200.92,214.70 L200.40,215.62 L199.88,216.54 L199.36,217.47 L198.84,218.39 L198.33,219.31 L197.82,220.23 L197.31,221.15 L196.80,222.08 L196.29,223.00 L195.79,223.91 L195.28,224.83 L194.78,225.75 L194.28,226.67 L193.79,227.59 L193.30,228.50 L192.80,229.42 L192.32,230.33 L191.83,231.25 L191.35,232.16 L190.87,233.07 L190.39,233.98 L189.91,234.89 L189.44,235.80 L188.97,236.71 L188.51,237.62 L188.05,238.53 L187.59,239.43 L187.13,240.34 L186.68,241.24 L186.23,242.14 L185.79,243.05 L185.35,243.95 L184.91,244.85 L184.48,245.74 L184.05,246.64 L183.63,247.54 L183.21,248.43 L182.80,249.32 L182.39,250.21 L181.98,251.10 L181.58,251.99 L181.19,252.88 L180.80,253.77 L180.41,254.65 L180.03,255.53 L179.66,256.41 L179.29,257.29 L178.92,258.17 L178.57,259.04 L178.21,259.92 L177.87,260.79 L177.53,261.66 L177.20,262.53 L176.87,263.39 L176.55,264.26 L176.24,265.12 L175.93,265.98 L175.63,266.84 L175.34,267.69 L175.06,268.54 L174.78,269.39 L174.51,270.24 L174.25,271.09 L174.00,271.93 L173.75,272.77 L173.51,273.61 L173.29,274.44 L173.07,275.28 L172.86,276.10 L172.66,276.93 L172.47,277.75 L172.28,278.57 L172.11,279.39 L171.95,280.20 L171.80,281.01 L171.66,281.82 L171.53,282.62 L171.41,283.42 L171.30,284.22 L171.20,285.01 L171.11,285.80 L171.04,286.58 L170.97,287.36 L170.92,288.14 L170.89,288.91 L170.86,289.68 L170.85,290.44 L170.85,291.20 L170.86,291.95 L170.89,292.70 L170.93,293.44 L170.99,294.18 L171.06,294.91 L171.14,295.64 L171.24,296.36 L171.35,297.08 L171.48,297.79 L171.63,298.50 L171.79,299.20 L171.97,299.89 L172.16,300.58 L172.37,301.25 L172.60,301.93 L172.84,302.59 L173.10,303.25 L173.38,303.91 L173.68,304.55 L173.99,305.19 L174.33,305.82 L174.68,306.44 L175.05,307.05 L175.44,307.66 L175.85,308.25 L176.27,308.84 L176.72,309.42 L177.19,309.99 L177.67,310.55 L178.18,311.10 L178.70,311.64 L179.25,312.18 L179.81,312.70 L180.40,313.21 L181.00,313.71 L181.63,314.20 L182.27,314.68 L182.93,315.15 L183.62,315.60 L184.32,316.05 L185.05,316.48 L185.79,316.90 L186.55,317.31 L187.33,317.70 L188.13,318.09 L188.95,318.46 L189.78,318.81 L190.63,319.16 L191.50,319.49 L192.39,319.80 L193.29,320.10 L194.21,320.39 L195.14,320.66 L196.09,320.92 L197.05,321.17 L198.02,321.40 L199.01,321.61 L200.01,321.81 L201.02,321.99 L202.04,322.16 L203.07,322.31 L204.11,322.45 L205.15,322.57 L206.20,322.67 L207.26,322.76 L208.32,322.83 L209.39,322.89 L210.46,322.93 L211.53,322.96 L212.60,322.96 L213.67,322.96 L214.74,322.93 L215.81,322.89 L216.88,322.83 L217.94,322.76 L219.00,322.67 L220.05,322.57 L221.09,322.45 L222.13,322.31 L223.16,322.16 L224.18,321.99 L225.19,321.81 L226.19,321.61 L227.18,321.40 L228.15,321.17 L229.11,320.92 L230.06,320.66 L230.99,320.39 L231.91,320.10 L232.81,319.80 L233.70,319.49 L234.57,319.16 L235.42,318.81 L236.25,318.46 L237.07,318.09 L237.87,317.70 L238.65,317.31 L239.41,316.90 L240.15,316.48 L240.88,316.05 L241.58,315.60 L242.27,315.15 L242.93,314.68 L243.57,314.20 L244.20,313.71 L244.80,313.21 L245.39,312.70 L245.95,312.18 L246.50,311.64 L247.02,311.10 L247.53,310.55 L248.01,309.99 L248.48,309.42 L248.93,308.84 L249.35,308.25 L249.76,307.66 L250.15,307.05 L250.52,306.44 L250.87,305.82 L251.21,305.19 L251.52,304.55 L251.82,303.91 L252.10,303.25 L252.36,302.59 L252.60,301.93 L252.83,301.25 L253.04,300.58 L253.23,299.89 L253.41,299.20 L253.57,298.50 L253.72,297.79 L253.85,297.08 L253.96,296.36 L254.06,295.64 L254.14,294.91 L254.21,294.18 L254.27,293.44 L254.31,292.70 L254.34,291.95 L254.35,291.20 L254.35,290.44 L254.34,289.68 L254.31,288.91 L254.28,288.14 L254.23,287.36 L254.16,286.58 L254.09,285.80 L254.00,285.01 L253.90,284.22 L253.79,283.42 L253.67,282.62 L253.54,281.82 L253.40,281.01 L253.25,280.20 L253.09,279.39 L252.92,278.57 L252.73,277.75 L252.54,276.93 L252.34,276.10 L252.13,275.28 L251.91,274.44 L251.69,273.61 L251.45,272.77 L251.20,271.93 L250.95,271.09 L250.69,270.24 L250.42,269.39 L250.14,268.54 L249.86,267.69 L249.57,266.84 L249.27,265.98 L248.96,265.12 L248.65,264.26 L248.33,263.39 L248.00,262.53 L247.67,261.66 L247.33,260.79 L246.99,259.92 L246.63,259.04 L246.28,258.17 L245.91,257.29 L245.54,256.41 L245.17,255.53 L244.79,254.65 L244.40,253.77 L244.01,252.88 L243.62,251.99 L243.22,251.10 L242.81,250.21 L242.40,249.32 L241.99,248.43 L241.57,247.54 L241.15,246.64 L240.72,245.74 L240.29,244.85 L239.85,243.95 L239.41,243.05 L238.97,242.14 L238.52,241.24 L238.07,240.34 L237.61,239.43 L237.15,238.53 L236.69,237.62 L236.23,236.71 L235.76,235.80 L235.29,234.89 L234.81,233.98 L234.33,233.07 L233.85,232.16 L233.37,231.25 L232.88,230.33 L232.40,229.42 L231.90,228.50 L231.41,227.59 L230.92,226.67 L230.42,225.75 L229.92,224.83 L229.41,223.91 L228.91,223.00 L228.40,222.08 L227.89,221.15 L227.38,220.23 L226.87,219.31 L226.36,218.39 L225.84,217.47 L225.32,216.54 L224.80,215.62 L224.28,214.70 L223.76,213.77 L223.24,212.85 L222.72,211.92 L222.19,211.00 L221.66,210.07 L221.14,209.14 L220.61,208.22 L220.08,207.29 L219.55,206.36 L219.02,205.44 L218.48,204.51 L217.95,203.58 L217.42,202.65 L216.88,201.73 L216.35,200.80 L215.81,199.87 L215.28,198.94 L214.74,198.01 L214.21,197.09 L213.67,196.16 L213.14,195.23 L212.60,194.30Z" fill="none" stroke="#b030b0" stroke-width="2.0" stroke-linejoin="round"/>
<g font-family="Liberation Sans, Arial, Helvetica, sans-serif" font-size="11" fill="#111"><text x="212.60" y="64.24" text-anchor="middle">60</text><text x="212.60" y="332.96" text-anchor="middle">60</text></g>
<path d="M212.60,194.30 L211.89,193.29 L211.19,192.28 L210.48,191.28 L209.78,190.27 L209.07,189.26 L208.37,188.26 L207.66,187.25 L206.96,186.24 L206.26,185.23 L205.55,184.23 L204.85,183.22 L204.15,182.21 L203.45,181.21 L202.75,180.20 L202.05,179.19 L201.35,178.19 L200.65,177.18 L199.95,176.17 L199.25,175.17 L198.56,174.16 L197.86,173.16 L197.17,172.15 L196.48,171.15 L195.78,170.14 L195.09,169.14 L194.40,168.13 L193.72,167.13 L193.03,166.12 L192.35,165.12 L191.66,164.12 L190.98,163.11 L190.30,162.11 L189.62,161.11 L188.95,160.10 L188.27,159.10 L187.60,158.10 L186.93,157.10 L186.26,156.10 L185.59,155.10 L184.93,154.10 L184.27,153.10 L183.61,152.10 L182.95,151.10 L182.29,150.10 L181.64,149.10 L180.99,148.11 L180.35,147.11 L179.70,146.11 L179.06,145.12 L178.42,144.12 L177.79,143.13 L177.15,142.13 L176.53,141.14 L175.90,140.15 L175.28,139.16 L174.66,138.16 L174.04,137.17 L173.43,136.18 L172.83,135.19 L172.22,134.20 L171.62,133.22 L171.03,132.23 L170.44,131.24 L169.85,130.26 L169.27,129.27 L168.69,128.29 L168.12,127.31 L167.55,126.32 L166.98,125.34 L166.43,124.36 L165.87,123.38 L165.33,122.40 L164.78,121.43 L164.25,120.45 L163.72,119.48 L163.19,118.50 L162.68,117.53 L162.17,116.56 L161.66,115.59 L161.16,114.62 L160.67,113.65 L160.19,112.68 L159.71,111.72 L159.24,110.75 L158.78,109.79 L158.32,108.83 L157.88,107.87 L157.44,106.91 L157.01,105.96 L156.59,105.00 L156.18,104.05 L155.78,103.10 L155.39,102.15 L155.00,101.21 L154.63,100.26 L154.27,99.32 L153.92,98.38 L153.58,97.44 L153.25,96.50 L152.93,95.57 L152.63,94.64 L152.34,93.71 L152.06,92.78 L151.79,91.86 L151.54,90.93 L151.30,90.02 L151.07,89.10 L150.86,88.19 L150.66,87.28 L150.48,86.37 L150.32,85.47 L150.17,84.57 L150.04,83.67 L149.93,82.77 L149.83,81.89 L149.76,81.00 L149.70,80.12 L149.66,79.24 L149.64,78.37 L149.65,77.50 L149.67,76.63 L149.72,75.77 L149.79,74.92 L149.88,74.07 L150.00,73.22 L150.14,72.38 L150.30,71.55 L150.50,70.72 L150.72,69.90 L150.97,69.08 L151.24,68.28 L151.55,67.47 L151.89,66.68 L152.26,65.89 L152.66,65.11 L153.09,64.34 L153.56,63.57 L154.06,62.81 L154.60,62.07 L155.17,61.33 L155.78,60.60 L156.43,59.88 L157.12,59.17 L157.85,58.47 L158.62,57.78 L159.43,57.10 L160.29,56.44 L161.19,55.78 L162.13,55.14 L163.12,54.52 L164.15,53.90 L165.23,53.30 L166.35,52.71 L167.52,52.14 L168.74,51.59 L170.01,51.05 L171.33,50.52 L172.69,50.02 L174.10,49.53 L175.56,49.06 L177.06,48.60 L178.62,48.17 L180.21,47.76 L181.85,47.36 L183.54,46.99 L185.26,46.64 L187.03,46.31 L188.83,46.00 L190.68,45.72 L192.55,45.46 L194.46,45.22 L196.40,45.01 L198.36,44.82 L200.35,44.65 L202.36,44.51 L204.39,44.40 L206.43,44.31 L208.48,44.24 L210.54,44.20 L212.60,44.19 L214.66,44.20 L216.72,44.24 L218.77,44.31 L220.81,44.40 L222.84,44.51 L224.85,44.65 L226.84,44.82 L228.80,45.01 L230.74,45.22 L232.65,45.46 L234.52,45.72 L236.37,46.00 L238.17,46.31 L239.94,46.64 L241.66,46.99 L243.35,47.36 L244.99,47.76 L246.58,48.17 L248.14,48.60 L249.64,49.06 L251.10,49.53 L252.51,50.02 L253.87,50.52 L255.19,51.05 L256.46,51.59 L257.68,52.14 L258.85,52.71 L259.97,53.30 L261.05,53.90 L262.08,54.52 L263.07,55.14 L264.01,55.78 L264.91,56.44 L265.77,57.10 L266.58,57.78 L267.35,58.47 L268.08,59.17 L268.77,59.88 L269.42,60.60 L270.03,61.33 L270.60,62.07 L271.14,62.81 L271.64,63.57 L272.11,64.34 L272.54,65.11 L272.94,65.89 L273.31,66.68 L273.65,67.47 L273.96,68.28 L274.23,69.08 L274.48,69.90 L274.70,70.72 L274.90,71.55 L275.06,72.38 L275.20,73.22 L275.32,74.07 L275.41,74.92 L275.48,75.77 L275.53,76.63 L275.55,77.50 L275.56,78.37 L275.54,79.24 L275.50,80.12 L275.44,81.00 L275.37,81.89 L275.27,82.77 L275.16,83.67 L275.03,84.57 L274.88,85.47 L274.72,86.37 L274.54,87.28 L274.34,88.19 L274.13,89.10 L273.90,90.02 L273.66,90.93 L273.41,91.86 L273.14,92.78 L272.86,93.71 L272.57,94.64 L272.27,95.57 L271.95,96.50 L271.62,97.44 L271.28,98.38 L270.93,99.32 L270.57,100.26 L270.20,101.21 L269.81,102.15 L269.42,103.10 L269.02,104.05 L268.61,105.00 L268.19,105.96 L267.76,106.91 L267.32,107.87 L266.88,108.83 L266.42,109.79 L265.96,110.75 L265.49,111.72 L265.01,112.68 L264.53,113.65 L264.04,114.62 L263.54,115.59 L263.03,116.56 L262.52,117.53 L262.01,118.50 L261.48,119.48 L260.95,120.45 L260.42,121.43 L259.87,122.40 L259.33,123.38 L258.77,124.36 L258.22,125.34 L257.65,126.32 L257.08,127.31 L256.51,128.29 L255.93,129.27 L255.35,130.26 L254.76,131.24 L254.17,132.23 L253.58,133.22 L252.98,134.20 L252.37,135.19 L251.77,136.18 L251.16,137.17 L250.54,138.16 L249.92,139.16 L249.30,140.15 L248.67,141.14 L248.05,142.13 L247.41,143.13 L246.78,144.12 L246.14,145.12 L245.50,146.11 L244.85,147.11 L244.21,148.11 L243.56,149.10 L242.91,150.10 L242.25,151.10 L241.59,152.10 L240.93,153.10 L240.27,154.10 L239.61,155.10 L238.94,156.10 L238.27,157.10 L237.60,158.10 L236.93,159.10 L236.25,160.10 L235.58,161.11 L234.90,162.11 L234.22,163.11 L233.54,164.12 L232.85,165.12 L232.17,166.12 L231.48,167.13 L230.80,168.13 L230.11,169.14 L229.42,170.14 L228.72,171.15 L228.03,172.15 L227.34,173.16 L226.64,174.16 L225.95,175.17 L225.25,176.17 L224.55,177.18 L223.85,178.19 L223.15,179.19 L222.45,180.20 L221.75,181.21 L221.05,182.21 L220.35,183.22 L219.65,184.23 L218.94,185.23 L218.24,186.24 L217.54,187.25 L216.83,188.26 L216.13,189.26 L215.42,190.27 L214.72,191.28 L214.01,192.28 L213.31,193.29 L212.60,194.30 L211.89,195.31 L211.19,196.32 L210.48,197.32 L209.78,198.33 L209.07,199.34 L208.37,200.34 L207.66,201.35 L206.96,202.36 L206.26,203.37 L205.55,204.37 L204.85,205.38 L204.15,206.39 L203.45,207.39 L202.75,208.40 L202.05,209.41 L201.35,210.41 L200.65,211.42 L199.95,212.43 L199.25,213.43 L198.56,214.44 L197.86,215.44 L197.17,216.45 L196.48,217.45 L195.78,218.46 L195.09,219.46 L194.40,220.47 L193.72,221.47 L193.03,222.48 L192.35,223.48 L191.66,224.48 L190.98,225.49 L190.30,226.49 L189.62,227.49 L188.95,228.50 L188.27,229.50 L187.60,230.50 L186.93,231.50 L186.26,232.50 L185.59,233.50 L184.93,234.50 L184.27,235.50 L183.61,236.50 L182.95,237.50 L182.29,238.50 L181.64,239.50 L180.99,240.49 L180.35,241.49 L179.70,242.49 L179.06,243.48 L178.42,244.48 L177.79,245.47 L177.15,246.47 L176.53,247.46 L175.90,248.45 L175.28,249.44 L174.66,250.44 L174.04,251.43 L173.43,252.42 L172.83,253.41 L172.22,254.40 L171.62,255.38 L171.03,256.37 L170.44,257.36 L169.85,258.34 L169.27,259.33 L168.69,260.31 L168.12,261.29 L167.55,262.28 L166.98,263.26 L166.43,264.24 L165.87,265.22 L165.33,266.20 L164.78,267.17 L164.25,268.15 L163.72,269.12 L163.19,270.10 L162.68,271.07 L162.17,272.04 L161.66,273.01 L161.16,273.98 L160.67,274.95 L160.19,275.92 L159.71,276.88 L159.24,277.85 L158.78,278.81 L158.32,279.77 L157.88,280.73 L157.44,281.69 L157.01,282.64 L156.59,283.60 L156.18,284.55 L155.78,285.50 L155.39,286.45 L155.00,287.39 L154.63,288.34 L154.27,289.28 L153.92,290.22 L153.58,291.16 L153.25,292.10 L152.93,293.03 L152.63,293.96 L152.34,294.89 L152.06,295.82 L151.79,296.74 L151.54,297.67 L151.30,298.58 L151.07,299.50 L150.86,300.41 L150.66,301.32 L150.48,302.23 L150.32,303.13 L150.17,304.03 L150.04,304.93 L149.93,305.83 L149.83,306.71 L149.76,307.60 L149.70,308.48 L149.66,309.36 L149.64,310.23 L149.65,311.10 L149.67,311.97 L149.72,312.83 L149.79,313.68 L149.88,314.53 L150.00,315.38 L150.14,316.22 L150.30,317.05 L150.50,317.88 L150.72,318.70 L150.97,319.52 L151.24,320.32 L151.55,321.13 L151.89,321.92 L152.26,322.71 L152.66,323.49 L153.09,324.26 L153.56,325.03 L154.06,325.79 L154.60,326.53 L155.17,327.27 L155.78,328.00 L156.43,328.72 L157.12,329.43 L157.85,330.13 L158.62,330.82 L159.43,331.50 L160.29,332.16 L161.19,332.82 L162.13,333.46 L163.12,334.08 L164.15,334.70 L165.23,335.30 L166.35,335.89 L167.52,336.46 L168.74,337.01 L170.01,337.55 L171.33,338.08 L172.69,338.58 L174.10,339.07 L175.56,339.54 L177.06,340.00 L178.62,340.43 L180.21,340.84 L181.85,341.24 L183.54,341.61 L185.26,341.96 L187.03,342.29 L188.83,342.60 L190.68,342.88 L192.55,343.14 L194.46,343.38 L196.40,343.59 L198.36,343.78 L200.35,343.95 L202.36,344.09 L204.39,344.20 L206.43,344.29 L208.48,344.36 L210.54,344.40 L212.60,344.41 L214.66,344.40 L216.72,344.36 L218.77,344.29 L220.81,344.20 L222.84,344.09 L224.85,343.95 L226.84,343.78 L228.80,343.59 L230.74,343.38 L232.65,343.14 L234.52,342.88 L236.37,342.60 L238.17,342.29 L239.94,341.96 L241.66,341.61 L243.35,341.24 L244.99,340.84 L246.58,340.43 L248.14,340.00 L249.64,339.54 L251.10,339.07 L252.51,338.58 L253.87,338.08 L255.19,337.55 L256.46,337.01 L257.68,336.46 L258.85,335.89 L259.97,335.30 L261.05,334.70 L262.08,334.08 L263.07,333.46 L264.01,332.82 L264.91,332.16 L265.77,331.50 L266.58,330.82 L267.35,330.13 L268.08,329.43 L268.77,328.72 L269.42,328.00 L270.03,327.27 L270.60,326.53 L271.14,325.79 L271.64,325.03 L272.11,324.26 L272.54,323.49 L272.94,322.71 L273.31,321.92 L273.65,321.13 L273.96,320.32 L274.23,319.52 L274.48,318.70 L274.70,317.88 L274.90,317.05 L275.06,316.22 L275.20,315.38 L275.32,314.53 L275.41,313.68 L275.48,312.83 L275.53,311.97 L275.55,311.10 L275.56,310.23 L275.54,309.36 L275.50,308.48 L275.44,307.60 L275.37,306.71 L275.27,305.83 L275.16,304.93 L275.03,304.03 L274.88,303.13 L274.72,302.23 L274.54,301.32 L274.34,300.41 L274.13,299.50 L273.90,298.58 L273.66,297.67 L273.41,296.74 L273.14,295.82 L272.86,294.89 L272.57,293.96 L272.27,293.03 L271.95,292.10 L271.62,291.16 L271.28,290.22 L270.93,289.28 L270.57,288.34 L270.20,287.39 L269.81,286.45 L269.42,285.50 L269.02,284.55 L268.61,283.60 L268.19,282.64 L267.76,281.69 L267.32,280.73 L266.88,279.77 L266.42,278.81 L265.96,277.85 L265.49,276.88 L265.01,275.92 L264.53,274.95 L264.04,273.98 L263.54,273.01 L263.03,272.04 L262.52,271.07 L262.01,270.10 L261.48,269.12 L260.95,268.15 L260.42,267.17 L259.87,266.20 L259.33,265.22 L258.77,264.24 L258.22,263.26 L257.65,262.28 L257.08,261.29 L256.51,260.31 L255.93,259.33 L255.35,258.34 L254.76,257.36 L254.17,256.37 L253.58,255.38 L252.98,254.40 L252.37,253.41 L251.77,252.42 L251.16,251.43 L250.54,250.44 L249.92,249.44 L249.30,248.45 L248.67,247.46 L248.05,246.47 L247.41,245.47 L246.78,244.48 L246.14,243.48 L245.50,242.49 L244.85,241.49 L244.21,240.49 L243.56,239.50 L242.91,238.50 L242.25,237.50 L241.59,236.50 L240.93,235.50 L240.27,234.50 L239.61,233.50 L238.94,232.50 L238.27,231.50 L237.60,230.50 L236.93,229.50 L236.25,228.50 L235.58,227.49 L234.90,226.49 L234.22,225.49 L233.54,224.48 L232.85,223.48 L232.17,222.48 L231.48,221.47 L230.80,220.47 L230.11,219.46 L229.42,218.46 L228.72,217.45 L228.03,216.45 L227.34,215.44 L226.64,214.44 L225.95,213.43 L225.25,212.43 L224.55,211.42 L223.85,210.41 L223.15,209.41 L222.45,208.40 L221.75,207.39 L221.05,206.39 L220.35,205.38 L219.65,204.37 L218.94,203.37 L218.24,202.36 L217.54,201.35 L216.83,200.34 L216.13,199.34 L215.42,198.33 L214.72,197.32 L214.01,196.32 L213.31,195.31 L212.60,194.30Z" fill="none" stroke="#e8e020" stroke-width="2.0" stroke-linejoin="round"/>
<g font-family="Liberation Sans, Arial, Helvetica, sans-serif" font-size="11" fill="#111"><text x="212.60" y="42.79" text-anchor="middle">70</text><text x="212.60" y="354.41" text-anchor="middle">70</text></g>
<path d="M212.60,194.30 L211.71,193.24 L210.83,192.19 L209.94,191.13 L209.06,190.08 L208.17,189.02 L207.28,187.96 L206.40,186.91 L205.51,185.85 L204.63,184.80 L203.74,183.74 L202.86,182.69 L201.98,181.63 L201.09,180.57 L200.21,179.52 L199.33,178.46 L198.44,177.41 L197.56,176.35 L196.68,175.30 L195.80,174.24 L194.92,173.19 L194.04,172.13 L193.16,171.07 L192.28,170.02 L191.40,168.96 L190.52,167.91 L189.65,166.85 L188.77,165.80 L187.89,164.74 L187.02,163.69 L186.15,162.63 L185.27,161.58 L184.40,160.52 L183.53,159.47 L182.66,158.42 L181.79,157.36 L180.93,156.31 L180.06,155.25 L179.19,154.20 L178.33,153.14 L177.47,152.09 L176.61,151.04 L175.75,149.98 L174.89,148.93 L174.03,147.88 L173.17,146.82 L172.32,145.77 L171.47,144.72 L170.61,143.66 L169.77,142.61 L168.92,141.56 L168.07,140.51 L167.23,139.45 L166.38,138.40 L165.54,137.35 L164.71,136.30 L163.87,135.25 L163.03,134.20 L162.20,133.14 L161.37,132.09 L160.54,131.04 L159.72,129.99 L158.90,128.94 L158.08,127.89 L157.26,126.84 L156.44,125.79 L155.63,124.74 L154.82,123.69 L154.02,122.65 L153.21,121.60 L152.41,120.55 L151.62,119.50 L150.82,118.45 L150.03,117.40 L149.24,116.36 L148.46,115.31 L147.68,114.26 L146.90,113.22 L146.13,112.17 L145.36,111.13 L144.60,110.08 L143.84,109.04 L143.09,107.99 L142.34,106.95 L141.59,105.91 L140.85,104.86 L140.12,103.82 L139.38,102.78 L138.66,101.74 L137.94,100.70 L137.23,99.65 L136.52,98.61 L135.82,97.58 L135.12,96.54 L134.43,95.50 L133.75,94.46 L133.08,93.42 L132.41,92.39 L131.75,91.35 L131.10,90.32 L130.45,89.28 L129.82,88.25 L129.19,87.21 L128.57,86.18 L127.96,85.15 L127.36,84.12 L126.77,83.09 L126.20,82.06 L125.63,81.04 L125.07,80.01 L124.53,78.98 L123.99,77.96 L123.47,76.94 L122.97,75.91 L122.47,74.89 L121.99,73.87 L121.53,72.86 L121.08,71.84 L120.65,70.82 L120.23,69.81 L119.83,68.80 L119.45,67.79 L119.09,66.78 L118.75,65.77 L118.43,64.77 L118.13,63.77 L117.86,62.77 L117.61,61.77 L117.38,60.77 L117.18,59.78 L117.01,58.79 L116.87,57.80 L116.76,56.81 L116.68,55.83 L116.64,54.85 L116.63,53.88 L116.65,52.90 L116.72,51.94 L116.83,50.97 L116.99,50.01 L117.19,49.06 L117.44,48.11 L117.74,47.16 L118.09,46.22 L118.51,45.29 L118.98,44.36 L119.52,43.44 L120.13,42.52 L120.82,41.62 L121.58,40.72 L122.42,39.83 L123.35,38.94 L124.37,38.07 L125.49,37.21 L126.71,36.36 L128.05,35.52 L129.50,34.70 L131.07,33.89 L132.78,33.09 L134.62,32.31 L136.61,31.55 L138.75,30.81 L141.05,30.09 L143.51,29.39 L146.16,28.71 L148.98,28.06 L151.99,27.44 L155.19,26.84 L158.59,26.28 L162.19,25.75 L165.98,25.25 L169.97,24.80 L174.14,24.38 L178.50,24.01 L183.02,23.68 L187.70,23.40 L192.51,23.17 L197.43,22.99 L202.44,22.85 L207.50,22.77 L212.60,22.75 L217.70,22.77 L222.76,22.85 L227.77,22.99 L232.69,23.17 L237.50,23.40 L242.18,23.68 L246.70,24.01 L251.06,24.38 L255.23,24.80 L259.22,25.25 L263.01,25.75 L266.61,26.28 L270.01,26.84 L273.21,27.44 L276.22,28.06 L279.04,28.71 L281.69,29.39 L284.15,30.09 L286.45,30.81 L288.59,31.55 L290.58,32.31 L292.42,33.09 L294.13,33.89 L295.70,34.70 L297.15,35.52 L298.49,36.36 L299.71,37.21 L300.83,38.07 L301.85,38.94 L302.78,39.83 L303.62,40.72 L304.38,41.62 L305.07,42.52 L305.68,43.44 L306.22,44.36 L306.69,45.29 L307.11,46.22 L307.46,47.16 L307.76,48.11 L308.01,49.06 L308.21,50.01 L308.37,50.97 L308.48,51.94 L308.55,52.90 L308.57,53.88 L308.56,54.85 L308.52,55.83 L308.44,56.81 L308.33,57.80 L308.19,58.79 L308.02,59.78 L307.82,60.77 L307.59,61.77 L307.34,62.77 L307.07,63.77 L306.77,64.77 L306.45,65.77 L306.11,66.78 L305.75,67.79 L305.37,68.80 L304.97,69.81 L304.55,70.82 L304.12,71.84 L303.67,72.86 L303.21,73.87 L302.73,74.89 L302.23,75.91 L301.73,76.94 L301.21,77.96 L300.67,78.98 L300.13,80.01 L299.57,81.04 L299.00,82.06 L298.43,83.09 L297.84,84.12 L297.24,85.15 L296.63,86.18 L296.01,87.21 L295.38,88.25 L294.75,89.28 L294.10,90.32 L293.45,91.35 L292.79,92.39 L292.12,93.42 L291.45,94.46 L290.77,95.50 L290.08,96.54 L289.38,97.58 L288.68,98.61 L287.97,99.65 L287.26,100.70 L286.54,101.74 L285.82,102.78 L285.08,103.82 L284.35,104.86 L283.61,105.91 L282.86,106.95 L282.11,107.99 L281.36,109.04 L280.60,110.08 L279.84,111.13 L279.07,112.17 L278.30,113.22 L277.52,114.26 L276.74,115.31 L275.96,116.36 L275.17,117.40 L274.38,118.45 L273.58,119.50 L272.79,120.55 L271.99,121.60 L271.18,122.65 L270.38,123.69 L269.57,124.74 L268.76,125.79 L267.94,126.84 L267.12,127.89 L266.30,128.94 L265.48,129.99 L264.66,131.04 L263.83,132.09 L263.00,133.14 L262.17,134.20 L261.33,135.25 L260.49,136.30 L259.66,137.35 L258.82,138.40 L257.97,139.45 L257.13,140.51 L256.28,141.56 L255.43,142.61 L254.59,143.66 L253.73,144.72 L252.88,145.77 L252.03,146.82 L251.17,147.88 L250.31,148.93 L249.45,149.98 L248.59,151.04 L247.73,152.09 L246.87,153.14 L246.01,154.20 L245.14,155.25 L244.27,156.31 L243.41,157.36 L242.54,158.42 L241.67,159.47 L240.80,160.52 L239.93,161.58 L239.05,162.63 L238.18,163.69 L237.31,164.74 L236.43,165.80 L235.55,166.85 L234.68,167.91 L233.80,168.96 L232.92,170.02 L232.04,171.07 L231.16,172.13 L230.28,173.19 L229.40,174.24 L228.52,175.30 L227.64,176.35 L226.76,177.41 L225.87,178.46 L224.99,179.52 L224.11,180.57 L223.22,181.63 L222.34,182.69 L221.46,183.74 L220.57,184.80 L219.69,185.85 L218.80,186.91 L217.92,187.96 L217.03,189.02 L216.14,190.08 L215.26,191.13 L214.37,192.19 L213.49,193.24 L212.60,194.30 L211.71,195.36 L210.83,196.41 L209.94,197.47 L209.06,198.52 L208.17,199.58 L207.28,200.64 L206.40,201.69 L205.51,202.75 L204.63,203.80 L203.74,204.86 L202.86,205.91 L201.98,206.97 L201.09,208.03 L200.21,209.08 L199.33,210.14 L198.44,211.19 L197.56,212.25 L196.68,213.30 L195.80,214.36 L194.92,215.41 L194.04,216.47 L193.16,217.53 L192.28,218.58 L191.40,219.64 L190.52,220.69 L189.65,221.75 L188.77,222.80 L187.89,223.86 L187.02,224.91 L186.15,225.97 L185.27,227.02 L184.40,228.08 L183.53,229.13 L182.66,230.18 L181.79,231.24 L180.93,232.29 L180.06,233.35 L179.19,234.40 L178.33,235.46 L177.47,236.51 L176.61,237.56 L175.75,238.62 L174.89,239.67 L174.03,240.72 L173.17,241.78 L172.32,242.83 L171.47,243.88 L170.61,244.94 L169.77,245.99 L168.92,247.04 L168.07,248.09 L167.23,249.15 L166.38,250.20 L165.54,251.25 L164.71,252.30 L163.87,253.35 L163.03,254.40 L162.20,255.46 L161.37,256.51 L160.54,257.56 L159.72,258.61 L158.90,259.66 L158.08,260.71 L157.26,261.76 L156.44,262.81 L155.63,263.86 L154.82,264.91 L154.02,265.95 L153.21,267.00 L152.41,268.05 L151.62,269.10 L150.82,270.15 L150.03,271.20 L149.24,272.24 L148.46,273.29 L147.68,274.34 L146.90,275.38 L146.13,276.43 L145.36,277.47 L144.60,278.52 L143.84,279.56 L143.09,280.61 L142.34,281.65 L141.59,282.69 L140.85,283.74 L140.12,284.78 L139.38,285.82 L138.66,286.86 L137.94,287.90 L137.23,288.95 L136.52,289.99 L135.82,291.02 L135.12,292.06 L134.43,293.10 L133.75,294.14 L133.08,295.18 L132.41,296.21 L131.75,297.25 L131.10,298.28 L130.45,299.32 L129.82,300.35 L129.19,301.39 L128.57,302.42 L127.96,303.45 L127.36,304.48 L126.77,305.51 L126.20,306.54 L125.63,307.56 L125.07,308.59 L124.53,309.62 L123.99,310.64 L123.47,311.66 L122.97,312.69 L122.47,313.71 L121.99,314.73 L121.53,315.74 L121.08,316.76 L120.65,317.78 L120.23,318.79 L119.83,319.80 L119.45,320.81 L119.09,321.82 L118.75,322.83 L118.43,323.83 L118.13,324.83 L117.86,325.83 L117.61,326.83 L117.38,327.83 L117.18,328.82 L117.01,329.81 L116.87,330.80 L116.76,331.79 L116.68,332.77 L116.64,333.75 L116.63,334.72 L116.65,335.70 L116.72,336.66 L116.83,337.63 L116.99,338.59 L117.19,339.54 L117.44,340.49 L117.74,341.44 L118.09,342.38 L118.51,343.31 L118.98,344.24 L119.52,345.16 L120.13,346.08 L120.82,346.98 L121.58,347.88 L122.42,348.77 L123.35,349.66 L124.37,350.53 L125.49,351.39 L126.71,352.24 L128.05,353.08 L129.50,353.90 L131.07,354.71 L132.78,355.51 L134.62,356.29 L136.61,357.05 L138.75,357.79 L141.05,358.51 L143.51,359.21 L146.16,359.89 L148.98,360.54 L151.99,361.16 L155.19,361.76 L158.59,362.32 L162.19,362.85 L165.98,363.35 L169.97,363.80 L174.14,364.22 L178.50,364.59 L183.02,364.92 L187.70,365.20 L192.51,365.43 L197.43,365.61 L202.44,365.75 L207.50,365.83 L212.60,365.85 L217.70,365.83 L222.76,365.75 L227.77,365.61 L232.69,365.43 L237.50,365.20 L242.18,364.92 L246.70,364.59 L251.06,364.22 L255.23,363.80 L259.22,363.35 L263.01,362.85 L266.61,362.32 L270.01,361.76 L273.21,361.16 L276.22,360.54 L279.04,359.89 L281.69,359.21 L284.15,358.51 L286.45,357.79 L288.59,357.05 L290.58,356.29 L292.42,355.51 L294.13,354.71 L295.70,353.90 L297.15,353.08 L298.49,352.24 L299.71,351.39 L300.83,350.53 L301.85,349.66 L302.78,348.77 L303.62,347.88 L304.38,346.98 L305.07,346.08 L305.68,345.16 L306.22,344.24 L306.69,343.31 L307.11,342.38 L307.46,341.44 L307.76,340.49 L308.01,339.54 L308.21,338.59 L308.37,337.63 L308.48,336.66 L308.55,335.70 L308.57,334.72 L308.56,333.75 L308.52,332.77 L308.44,331.79 L308.33,330.80 L308.19,329.81 L308.02,328.82 L307.82,327.83 L307.59,326.83 L307.34,325.83 L307.07,324.83 L306.77,323.83 L306.45,322.83 L306.11,321.82 L305.75,320.81 L305.37,319.80 L304.97,318.79 L304.55,317.78 L304.12,316.76 L303.67,315.74 L303.21,314.73 L302.73,313.71 L302.23,312.69 L301.73,311.66 L301.21,310.64 L300.67,309.62 L300.13,308.59 L299.57,307.56 L299.00,306.54 L298.43,305.51 L297.84,304.48 L297.24,303.45 L296.63,302.42 L296.01,301.39 L295.38,300.35 L294.75,299.32 L294.10,298.28 L293.45,297.25 L292.79,296.21 L292.12,295.18 L291.45,294.14 L290.77,293.10 L290.08,292.06 L289.38,291.02 L288.68,289.99 L287.97,288.95 L287.26,287.90 L286.54,286.86 L285.82,285.82 L285.08,284.78 L284.35,283.74 L283.61,282.69 L282.86,281.65 L282.11,280.61 L281.36,279.56 L280.60,278.52 L279.84,277.47 L279.07,276.43 L278.30,275.38 L277.52,274.34 L276.74,273.29 L275.96,272.24 L275.17,271.20 L274.38,270.15 L273.58,269.10 L272.79,268.05 L271.99,267.00 L271.18,265.95 L270.38,264.91 L269.57,263.86 L268.76,262.81 L267.94,261.76 L267.12,260.71 L266.30,259.66 L265.48,258.61 L264.66,257.56 L263.83,256.51 L263.00,255.46 L262.17,254.40 L261.33,253.35 L260.49,252.30 L259.66,251.25 L258.82,250.20 L257.97,249.15 L257.13,248.09 L256.28,247.04 L255.43,245.99 L254.59,244.94 L253.73,243.88 L252.88,242.83 L252.03,241.78 L251.17,240.72 L250.31,239.67 L249.45,238.62 L248.59,237.56 L247.73,236.51 L246.87,235.46 L246.01,234.40 L245.14,233.35 L244.27,232.29 L243.41,231.24 L242.54,230.18 L241.67,229.13 L240.80,228.08 L239.93,227.02 L239.05,225.97 L238.18,224.91 L237.31,223.86 L236.43,222.80 L235.55,221.75 L234.68,220.69 L233.80,219.64 L232.92,218.58 L232.04,217.53 L231.16,216.47 L230.28,215.41 L229.40,214.36 L228.52,213.30 L227.64,212.25 L226.76,211.19 L225.87,210.14 L224.99,209.08 L224.11,208.03 L223.22,206.97 L222.34,205.91 L221.46,204.86 L220.57,203.80 L219.69,202.75 L218.80,201.69 L217.92,200.64 L217.03,199.58 L216.14,198.52 L215.26,197.47 L214.37,196.41 L213.49,195.36 L212.60,194.30Z" fill="none" stroke="#f07818" stroke-width="2.0" stroke-linejoin="round"/>
<g font-family="Liberation Sans, Arial, Helvetica, sans-serif" font-size="11" fill="#111"><text x="212.60" y="21.35" text-anchor="middle">80</text><text x="212.60" y="375.85" text-anchor="middle">80</text></g>
<line x1="19.60" y1="1.30" x2="405.60" y2="387.30" stroke="#000" stroke-width="1.9"/>
<line x1="19.60" y1="387.30" x2="405.60" y2="1.30" stroke="#000" stroke-width="1.9"/>
<line x1="19.60" y1="0.9" x2="406.20" y2="0.9" stroke="#000" stroke-width="1.9"/>
<line x1="19.60" y1="387.9" x2="405.60" y2="387.9" stroke="#000" stroke-width="2"/>
<g font-family="Liberation Sans, Arial, Helvetica, sans-serif" font-size="12.6" fill="#111"><text x="18.1" y="369.70" text-anchor="end">-80</text><text x="18.1" y="348.26" text-anchor="end">-70</text><text x="18.1" y="326.81" text-anchor="end">-60</text><text x="18.1" y="305.37" text-anchor="end">-50</text><text x="18.1" y="283.93" text-anchor="end">-40</text><text x="18.1" y="262.48" text-anchor="end">-30</text><text x="18.1" y="241.04" text-anchor="end">-20</text><text x="18.1" y="219.59" text-anchor="end">-10</text><text x="15.0" y="198.15" text-anchor="end">0</text><text x="16.6" y="176.71" text-anchor="end">10</text><text x="16.6" y="155.26" text-anchor="end">20</text><text x="16.6" y="133.82" text-anchor="end">30</text><text x="16.6" y="112.37" text-anchor="end">40</text><text x="16.6" y="90.93" text-anchor="end">50</text><text x="16.6" y="69.49" text-anchor="end">60</text><text x="16.6" y="48.04" text-anchor="end">70</text><text x="16.6" y="26.60" text-anchor="end">80</text><text x="19.60" y="402.2" text-anchor="middle">-90</text><text x="41.05" y="402.2" text-anchor="middle">-80</text><text x="62.49" y="402.2" text-anchor="middle">-70</text><text x="83.94" y="402.2" text-anchor="middle">-60</text><text x="105.38" y="402.2" text-anchor="middle">-50</text><text x="126.82" y="402.2" text-anchor="middle">-40</text><text x="148.27" y="402.2" text-anchor="middle">-30</text><text x="169.71" y="402.2" text-anchor="middle">-20</text><text x="191.16" y="402.2" text-anchor="middle">-10</text><text x="212.60" y="402.2" text-anchor="middle">0</text><text x="234.04" y="402.2" text-anchor="middle">10</text><text x="255.49" y="402.2" text-anchor="middle">20</text><text x="276.93" y="402.2" text-anchor="middle">30</text><text x="298.38" y="402.2" text-anchor="middle">40</text><text x="319.82" y="402.2" text-anchor="middle">50</text><text x="341.26" y="402.2" text-anchor="middle">60</text><text x="362.71" y="402.2" text-anchor="middle">70</text><text x="384.15" y="402.2" text-anchor="middle">80</text><text x="405.60" y="402.2" text-anchor="middle">90</text></g>
<g font-family="Liberation Sans, Arial, Helvetica, sans-serif" font-size="11" fill="#111"><text x="115" y="12" text-anchor="middle">90</text><text x="309.2" y="385.4" text-anchor="middle">90</text><text x="41.4" y="187.8" >Longitude</text><text transform="translate(34.3,174.5) rotate(-90)" font-size="11.3">Latitude</text></g>
<rect x="18.6" y="415.4" width="386.4" height="386.0" fill="none" stroke="#6a6a6a" stroke-width="1.4"/>
<line x1="18.8" y1="608.3" x2="404.8" y2="608.3" stroke="#b4b4b4" stroke-width="1" stroke-dasharray="1.6 0.8"/>
<line x1="211.7" y1="415.4" x2="211.7" y2="801.2" stroke="#b4b4b4" stroke-width="1" stroke-dasharray="1.6 0.8"/>
<g stroke="#222" stroke-width="1.2"><line x1="207.70" y1="786.80" x2="216.00" y2="786.80"/><line x1="207.70" y1="768.95" x2="216.00" y2="768.95"/><line x1="207.70" y1="751.10" x2="216.00" y2="751.10"/><line x1="207.70" y1="733.25" x2="216.00" y2="733.25"/><line x1="207.70" y1="715.40" x2="216.00" y2="715.40"/><line x1="207.70" y1="697.55" x2="216.00" y2="697.55"/><line x1="207.70" y1="679.70" x2="216.00" y2="679.70"/><line x1="207.70" y1="661.85" x2="216.00" y2="661.85"/><line x1="207.70" y1="644.00" x2="216.00" y2="644.00"/><line x1="207.70" y1="626.15" x2="216.00" y2="626.15"/><line x1="207.70" y1="590.45" x2="216.00" y2="590.45"/><line x1="207.70" y1="572.60" x2="216.00" y2="572.60"/><line x1="207.70" y1="554.75" x2="216.00" y2="554.75"/><line x1="207.70" y1="536.90" x2="216.00" y2="536.90"/><line x1="207.70" y1="519.05" x2="216.00" y2="519.05"/><line x1="207.70" y1="501.20" x2="216.00" y2="501.20"/><line x1="207.70" y1="483.35" x2="216.00" y2="483.35"/><line x1="207.70" y1="465.50" x2="216.00" y2="465.50"/><line x1="207.70" y1="447.65" x2="216.00" y2="447.65"/><line x1="207.70" y1="429.80" x2="216.00" y2="429.80"/><line x1="158.15" y1="604.70" x2="158.15" y2="612.60"/><line x1="176.00" y1="604.70" x2="176.00" y2="612.60"/><line x1="193.85" y1="604.70" x2="193.85" y2="612.60"/><line x1="229.55" y1="604.70" x2="229.55" y2="612.60"/><line x1="247.40" y1="604.70" x2="247.40" y2="612.60"/><line x1="265.25" y1="604.70" x2="265.25" y2="612.60"/></g>
<g font-family="Liberation Sans, Arial, Helvetica, sans-serif" font-size="12.7" fill="#111"><text x="206.3" y="791.10" text-anchor="end">-50</text><text x="206.3" y="755.40" text-anchor="end">-40</text><text x="206.3" y="719.70" text-anchor="end">-30</text><text x="206.3" y="684.00" text-anchor="end">-20</text><text x="206.3" y="648.30" text-anchor="end">-10</text><text x="207.6" y="612.60" text-anchor="end">0</text><text x="206.3" y="576.90" text-anchor="end">10</text><text x="206.3" y="541.20" text-anchor="end">20</text><text x="206.3" y="505.50" text-anchor="end">30</text><text x="206.3" y="469.80" text-anchor="end">40</text><text x="206.3" y="434.10" text-anchor="end">50</text><text x="154.4" y="602.7" text-anchor="middle">-15</text><text x="176.1" y="602.7" text-anchor="middle">-10</text><text x="193.8" y="602.7" text-anchor="middle">-5</text><text x="212.6" y="602.7" text-anchor="middle">0</text><text x="229.6" y="602.7" text-anchor="middle">5</text><text x="247.6" y="602.7" text-anchor="middle">10</text><text x="265.5" y="602.7" text-anchor="middle">15</text></g>
<path d="M211.70,447.65 L212.27,447.67 L212.85,447.72 L213.42,447.82 L213.99,447.94 L214.56,448.11 L215.13,448.31 L215.70,448.55 L216.26,448.82 L216.82,449.13 L217.38,449.47 L217.93,449.85 L218.47,450.26 L219.01,450.70 L219.55,451.18 L220.08,451.69 L220.61,452.24 L221.12,452.81 L221.63,453.42 L222.14,454.05 L222.63,454.72 L223.12,455.42 L223.60,456.14 L224.08,456.89 L224.54,457.67 L225.00,458.48 L225.44,459.31 L225.88,460.16 L226.31,461.04 L226.72,461.94 L227.13,462.87 L227.53,463.81 L227.92,464.78 L228.30,465.76 L228.67,466.77 L229.02,467.79 L229.37,468.83 L229.71,469.89 L230.03,470.96 L230.35,472.05 L230.65,473.15 L230.95,474.26 L231.23,475.39 L231.50,476.53 L231.76,477.68 L232.01,478.84 L232.25,480.01 L232.48,481.19 L232.70,482.37 L232.91,483.57 L233.11,484.77 L233.29,485.97 L233.47,487.18 L233.63,488.40 L233.79,489.62 L233.94,490.84 L234.07,492.07 L234.20,493.30 L234.31,494.53 L234.42,495.76 L234.52,497.00 L234.60,498.23 L234.68,499.47 L234.75,500.70 L234.81,501.93 L234.86,503.16 L234.90,504.39 L234.94,505.62 L234.96,506.84 L234.98,508.06 L234.99,509.28 L234.99,510.49 L234.98,511.70 L234.96,512.91 L234.94,514.11 L234.91,515.31 L234.87,516.50 L234.83,517.69 L234.77,518.87 L234.72,520.05 L234.65,521.22 L234.58,522.38 L234.50,523.54 L234.41,524.69 L234.32,525.84 L234.23,526.97 L234.12,528.11 L234.01,529.23 L233.90,530.35 L233.78,531.46 L233.66,532.57 L233.53,533.67 L233.39,534.76 L233.25,535.84 L233.10,536.92 L232.95,537.99 L232.80,539.05 L232.64,540.10 L232.48,541.15 L232.31,542.19 L232.14,543.22 L231.96,544.25 L231.78,545.27 L231.60,546.28 L231.41,547.28 L231.22,548.28 L231.03,549.27 L230.83,550.25 L230.63,551.23 L230.43,552.20 L230.22,553.16 L230.01,554.11 L229.80,555.06 L229.58,556.00 L229.36,556.93 L229.14,557.86 L228.92,558.78 L228.69,559.70 L228.46,560.60 L228.23,561.50 L228.00,562.40 L227.76,563.29 L227.52,564.17 L227.28,565.05 L227.04,565.92 L226.80,566.78 L226.55,567.64 L226.30,568.50 L226.06,569.34 L225.80,570.19 L225.55,571.02 L225.30,571.86 L225.04,572.68 L224.78,573.50 L224.52,574.32 L224.26,575.13 L224.00,575.94 L223.74,576.74 L223.47,577.54 L223.21,578.33 L222.94,579.12 L222.67,579.90 L222.41,580.69 L222.14,581.46 L221.86,582.23 L221.59,583.00 L221.32,583.77 L221.05,584.53 L220.77,585.29 L220.49,586.04 L220.22,586.79 L219.94,587.54 L219.66,588.28 L219.39,589.02 L219.11,589.76 L218.83,590.50 L218.55,591.23 L218.26,591.96 L217.98,592.69 L217.70,593.41 L217.42,594.14 L217.14,594.86 L216.85,595.58 L216.57,596.30 L216.28,597.01 L216.00,597.73 L215.71,598.44 L215.43,599.15 L215.14,599.86 L214.86,600.57 L214.57,601.27 L214.28,601.98 L214.00,602.68 L213.71,603.39 L213.42,604.09 L213.14,604.79 L212.85,605.49 L212.56,606.20 L212.27,606.90 L211.99,607.60 L211.70,608.30 L211.41,609.00 L211.13,609.70 L210.84,610.40 L210.55,611.11 L210.26,611.81 L209.98,612.51 L209.69,613.21 L209.40,613.92 L209.12,614.62 L208.83,615.33 L208.54,616.03 L208.26,616.74 L207.97,617.45 L207.69,618.16 L207.40,618.87 L207.12,619.59 L206.83,620.30 L206.55,621.02 L206.26,621.74 L205.98,622.46 L205.70,623.19 L205.42,623.91 L205.14,624.64 L204.85,625.37 L204.57,626.10 L204.29,626.84 L204.01,627.58 L203.74,628.32 L203.46,629.06 L203.18,629.81 L202.91,630.56 L202.63,631.31 L202.35,632.07 L202.08,632.83 L201.81,633.60 L201.54,634.37 L201.26,635.14 L200.99,635.91 L200.73,636.70 L200.46,637.48 L200.19,638.27 L199.93,639.06 L199.66,639.86 L199.40,640.66 L199.14,641.47 L198.88,642.28 L198.62,643.10 L198.36,643.92 L198.10,644.74 L197.85,645.58 L197.60,646.41 L197.34,647.26 L197.10,648.10 L196.85,648.96 L196.60,649.82 L196.36,650.68 L196.12,651.55 L195.88,652.43 L195.64,653.31 L195.40,654.20 L195.17,655.10 L194.94,656.00 L194.71,656.90 L194.48,657.82 L194.26,658.74 L194.04,659.67 L193.82,660.60 L193.60,661.54 L193.39,662.49 L193.18,663.44 L192.97,664.40 L192.77,665.37 L192.57,666.35 L192.37,667.33 L192.18,668.32 L191.99,669.32 L191.80,670.32 L191.62,671.33 L191.44,672.35 L191.26,673.38 L191.09,674.41 L190.92,675.45 L190.76,676.50 L190.60,677.55 L190.45,678.61 L190.30,679.68 L190.15,680.76 L190.01,681.84 L189.87,682.93 L189.74,684.03 L189.62,685.14 L189.50,686.25 L189.39,687.37 L189.28,688.49 L189.17,689.63 L189.08,690.76 L188.99,691.91 L188.90,693.06 L188.82,694.22 L188.75,695.38 L188.68,696.55 L188.63,697.73 L188.57,698.91 L188.53,700.10 L188.49,701.29 L188.46,702.49 L188.44,703.69 L188.42,704.90 L188.41,706.11 L188.41,707.32 L188.42,708.54 L188.44,709.76 L188.46,710.98 L188.50,712.21 L188.54,713.44 L188.59,714.67 L188.65,715.90 L188.72,717.13 L188.80,718.37 L188.88,719.60 L188.98,720.84 L189.09,722.07 L189.20,723.30 L189.33,724.53 L189.46,725.76 L189.61,726.98 L189.77,728.20 L189.93,729.42 L190.11,730.63 L190.29,731.83 L190.49,733.03 L190.70,734.23 L190.92,735.41 L191.15,736.59 L191.39,737.76 L191.64,738.92 L191.90,740.07 L192.17,741.21 L192.45,742.34 L192.75,743.45 L193.05,744.55 L193.37,745.64 L193.69,746.71 L194.03,747.77 L194.38,748.81 L194.73,749.83 L195.10,750.84 L195.48,751.82 L195.87,752.79 L196.27,753.73 L196.68,754.66 L197.09,755.56 L197.52,756.44 L197.96,757.29 L198.40,758.12 L198.86,758.93 L199.32,759.71 L199.80,760.46 L200.28,761.18 L200.77,761.88 L201.26,762.55 L201.77,763.18 L202.28,763.79 L202.79,764.36 L203.32,764.91 L203.85,765.42 L204.39,765.90 L204.93,766.34 L205.47,766.75 L206.02,767.13 L206.58,767.47 L207.14,767.78 L207.70,768.05 L208.27,768.29 L208.84,768.49 L209.41,768.66 L209.98,768.78 L210.55,768.88 L211.13,768.93 L211.70,768.95 L212.27,768.93 L212.85,768.88 L213.42,768.78 L213.99,768.66 L214.56,768.49 L215.13,768.29 L215.70,768.05 L216.26,767.78 L216.82,767.47 L217.38,767.13 L217.93,766.75 L218.47,766.34 L219.01,765.90 L219.55,765.42 L220.08,764.91 L220.61,764.36 L221.12,763.79 L221.63,763.18 L222.14,762.55 L222.63,761.88 L223.12,761.18 L223.60,760.46 L224.08,759.71 L224.54,758.93 L225.00,758.12 L225.44,757.29 L225.88,756.44 L226.31,755.56 L226.72,754.66 L227.13,753.73 L227.53,752.79 L227.92,751.82 L228.30,750.84 L228.67,749.83 L229.02,748.81 L229.37,747.77 L229.71,746.71 L230.03,745.64 L230.35,744.55 L230.65,743.45 L230.95,742.34 L231.23,741.21 L231.50,740.07 L231.76,738.92 L232.01,737.76 L232.25,736.59 L232.48,735.41 L232.70,734.23 L232.91,733.03 L233.11,731.83 L233.29,730.63 L233.47,729.42 L233.63,728.20 L233.79,726.98 L233.94,725.76 L234.07,724.53 L234.20,723.30 L234.31,722.07 L234.42,720.84 L234.52,719.60 L234.60,718.37 L234.68,717.13 L234.75,715.90 L234.81,714.67 L234.86,713.44 L234.90,712.21 L234.94,710.98 L234.96,709.76 L234.98,708.54 L234.99,707.32 L234.99,706.11 L234.98,704.90 L234.96,703.69 L234.94,702.49 L234.91,701.29 L234.87,700.10 L234.83,698.91 L234.77,697.73 L234.72,696.55 L234.65,695.38 L234.58,694.22 L234.50,693.06 L234.41,691.91 L234.32,690.76 L234.23,689.63 L234.12,688.49 L234.01,687.37 L233.90,686.25 L233.78,685.14 L233.66,684.03 L233.53,682.93 L233.39,681.84 L233.25,680.76 L233.10,679.68 L232.95,678.61 L232.80,677.55 L232.64,676.50 L232.48,675.45 L232.31,674.41 L232.14,673.38 L231.96,672.35 L231.78,671.33 L231.60,670.32 L231.41,669.32 L231.22,668.32 L231.03,667.33 L230.83,666.35 L230.63,665.37 L230.43,664.40 L230.22,663.44 L230.01,662.49 L229.80,661.54 L229.58,660.60 L229.36,659.67 L229.14,658.74 L228.92,657.82 L228.69,656.90 L228.46,656.00 L228.23,655.10 L228.00,654.20 L227.76,653.31 L227.52,652.43 L227.28,651.55 L227.04,650.68 L226.80,649.82 L226.55,648.96 L226.30,648.10 L226.06,647.26 L225.80,646.41 L225.55,645.58 L225.30,644.74 L225.04,643.92 L224.78,643.10 L224.52,642.28 L224.26,641.47 L224.00,640.66 L223.74,639.86 L223.47,639.06 L223.21,638.27 L222.94,637.48 L222.67,636.70 L222.41,635.91 L222.14,635.14 L221.86,634.37 L221.59,633.60 L221.32,632.83 L221.05,632.07 L220.77,631.31 L220.49,630.56 L220.22,629.81 L219.94,629.06 L219.66,628.32 L219.39,627.58 L219.11,626.84 L218.83,626.10 L218.55,625.37 L218.26,624.64 L217.98,623.91 L217.70,623.19 L217.42,622.46 L217.14,621.74 L216.85,621.02 L216.57,620.30 L216.28,619.59 L216.00,618.87 L215.71,618.16 L215.43,617.45 L215.14,616.74 L214.86,616.03 L214.57,615.33 L214.28,614.62 L214.00,613.92 L213.71,613.21 L213.42,612.51 L213.14,611.81 L212.85,611.11 L212.56,610.40 L212.27,609.70 L211.99,609.00 L211.70,608.30 L211.41,607.60 L211.13,606.90 L210.84,606.20 L210.55,605.49 L210.26,604.79 L209.98,604.09 L209.69,603.39 L209.40,602.68 L209.12,601.98 L208.83,601.27 L208.54,600.57 L208.26,599.86 L207.97,599.15 L207.69,598.44 L207.40,597.73 L207.12,597.01 L206.83,596.30 L206.55,595.58 L206.26,594.86 L205.98,594.14 L205.70,593.41 L205.42,592.69 L205.14,591.96 L204.85,591.23 L204.57,590.50 L204.29,589.76 L204.01,589.02 L203.74,588.28 L203.46,587.54 L203.18,586.79 L202.91,586.04 L202.63,585.29 L202.35,584.53 L202.08,583.77 L201.81,583.00 L201.54,582.23 L201.26,581.46 L200.99,580.69 L200.73,579.90 L200.46,579.12 L200.19,578.33 L199.93,577.54 L199.66,576.74 L199.40,575.94 L199.14,575.13 L198.88,574.32 L198.62,573.50 L198.36,572.68 L198.10,571.86 L197.85,571.02 L197.60,570.19 L197.34,569.34 L197.10,568.50 L196.85,567.64 L196.60,566.78 L196.36,565.92 L196.12,565.05 L195.88,564.17 L195.64,563.29 L195.40,562.40 L195.17,561.50 L194.94,560.60 L194.71,559.70 L194.48,558.78 L194.26,557.86 L194.04,556.93 L193.82,556.00 L193.60,555.06 L193.39,554.11 L193.18,553.16 L192.97,552.20 L192.77,551.23 L192.57,550.25 L192.37,549.27 L192.18,548.28 L191.99,547.28 L191.80,546.28 L191.62,545.27 L191.44,544.25 L191.26,543.22 L191.09,542.19 L190.92,541.15 L190.76,540.10 L190.60,539.05 L190.45,537.99 L190.30,536.92 L190.15,535.84 L190.01,534.76 L189.87,533.67 L189.74,532.57 L189.62,531.46 L189.50,530.35 L189.39,529.23 L189.28,528.11 L189.17,526.97 L189.08,525.84 L188.99,524.69 L188.90,523.54 L188.82,522.38 L188.75,521.22 L188.68,520.05 L188.63,518.87 L188.57,517.69 L188.53,516.50 L188.49,515.31 L188.46,514.11 L188.44,512.91 L188.42,511.70 L188.41,510.49 L188.41,509.28 L188.42,508.06 L188.44,506.84 L188.46,505.62 L188.50,504.39 L188.54,503.16 L188.59,501.93 L188.65,500.70 L188.72,499.47 L188.80,498.23 L188.88,497.00 L188.98,495.76 L189.09,494.53 L189.20,493.30 L189.33,492.07 L189.46,490.84 L189.61,489.62 L189.77,488.40 L189.93,487.18 L190.11,485.97 L190.29,484.77 L190.49,483.57 L190.70,482.37 L190.92,481.19 L191.15,480.01 L191.39,478.84 L191.64,477.68 L191.90,476.53 L192.17,475.39 L192.45,474.26 L192.75,473.15 L193.05,472.05 L193.37,470.96 L193.69,469.89 L194.03,468.83 L194.38,467.79 L194.73,466.77 L195.10,465.76 L195.48,464.78 L195.87,463.81 L196.27,462.87 L196.68,461.94 L197.09,461.04 L197.52,460.16 L197.96,459.31 L198.40,458.48 L198.86,457.67 L199.32,456.89 L199.80,456.14 L200.28,455.42 L200.77,454.72 L201.26,454.05 L201.77,453.42 L202.28,452.81 L202.79,452.24 L203.32,451.69 L203.85,451.18 L204.39,450.70 L204.93,450.26 L205.47,449.85 L206.02,449.47 L206.58,449.13 L207.14,448.82 L207.70,448.55 L208.27,448.31 L208.84,448.11 L209.41,447.94 L209.98,447.82 L210.55,447.72 L211.13,447.67 L211.70,447.65Z" fill="none" stroke="#000" stroke-width="2.2"/>
<path d="M211.70,608.30 L211.18,607.04 L210.65,605.78 L210.13,604.51 L209.61,603.25 L209.09,601.99 L208.57,600.73 L208.05,599.47 L207.53,598.21 L207.01,596.95 L206.49,595.69 L205.97,594.43 L205.46,593.17 L204.94,591.91 L204.43,590.65 L203.92,589.39 L203.41,588.14 L202.90,586.88 L202.40,585.63 L201.89,584.37 L201.39,583.12 L200.89,581.87 L200.40,580.62 L199.90,579.37 L199.41,578.12 L198.92,576.87 L198.44,575.63 L197.96,574.38 L197.48,573.14 L197.00,571.89 L196.53,570.65 L196.06,569.41 L195.59,568.18 L195.13,566.94 L194.67,565.71 L194.22,564.47 L193.77,563.24 L193.32,562.01 L192.88,560.79 L192.44,559.56 L192.01,558.34 L191.58,557.11 L191.16,555.90 L190.74,554.68 L190.32,553.46 L189.92,552.25 L189.51,551.04 L189.12,549.83 L188.72,548.63 L188.34,547.43 L187.96,546.23 L187.58,545.03 L187.21,543.83 L186.85,542.64 L186.49,541.45 L186.14,540.27 L185.80,539.08 L185.46,537.90 L185.13,536.73 L184.80,535.55 L184.49,534.38 L184.18,533.22 L183.87,532.05 L183.58,530.89 L183.29,529.74 L183.01,528.58 L182.73,527.44 L182.46,526.29 L182.21,525.15 L181.95,524.01 L181.71,522.88 L181.48,521.75 L181.25,520.63 L181.03,519.50 L180.82,518.39 L180.62,517.28 L180.42,516.17 L180.24,515.07 L180.06,513.97 L179.89,512.88 L179.74,511.79 L179.59,510.71 L179.45,509.63 L179.31,508.56 L179.19,507.49 L179.08,506.43 L178.97,505.37 L178.88,504.32 L178.79,503.27 L178.72,502.23 L178.65,501.20 L178.60,500.17 L178.55,499.15 L178.51,498.14 L178.49,497.13 L178.47,496.12 L178.47,495.13 L178.47,494.14 L178.48,493.16 L178.51,492.18 L178.54,491.21 L178.59,490.25 L178.64,489.30 L178.71,488.35 L178.78,487.41 L178.87,486.48 L178.97,485.55 L179.07,484.64 L179.19,483.73 L179.32,482.83 L179.46,481.94 L179.61,481.05 L179.77,480.18 L179.94,479.31 L180.12,478.45 L180.31,477.60 L180.52,476.76 L180.73,475.93 L180.95,475.11 L181.19,474.30 L181.43,473.49 L181.69,472.70 L181.95,471.92 L182.23,471.14 L182.52,470.38 L182.82,469.62 L183.12,468.88 L183.44,468.15 L183.77,467.43 L184.11,466.72 L184.46,466.02 L184.82,465.33 L185.18,464.65 L185.56,463.98 L185.95,463.33 L186.35,462.68 L186.76,462.05 L187.17,461.43 L187.60,460.82 L188.04,460.22 L188.48,459.64 L188.93,459.07 L189.40,458.51 L189.87,457.96 L190.35,457.43 L190.84,456.91 L191.33,456.40 L191.84,455.91 L192.35,455.43 L192.87,454.96 L193.40,454.51 L193.93,454.07 L194.48,453.64 L195.03,453.23 L195.58,452.83 L196.15,452.44 L196.72,452.07 L197.29,451.72 L197.87,451.37 L198.46,451.05 L199.06,450.73 L199.65,450.44 L200.26,450.15 L200.87,449.88 L201.48,449.63 L202.10,449.39 L202.72,449.17 L203.34,448.96 L203.97,448.77 L204.61,448.59 L205.24,448.43 L205.88,448.28 L206.52,448.15 L207.16,448.03 L207.81,447.93 L208.45,447.84 L209.10,447.77 L209.75,447.72 L210.40,447.68 L211.05,447.66 L211.70,447.65 L212.35,447.66 L213.00,447.68 L213.65,447.72 L214.30,447.77 L214.95,447.84 L215.59,447.93 L216.24,448.03 L216.88,448.15 L217.52,448.28 L218.16,448.43 L218.79,448.59 L219.43,448.77 L220.06,448.96 L220.68,449.17 L221.30,449.39 L221.92,449.63 L222.53,449.88 L223.14,450.15 L223.75,450.44 L224.34,450.73 L224.94,451.05 L225.53,451.37 L226.11,451.72 L226.68,452.07 L227.25,452.44 L227.82,452.83 L228.37,453.23 L228.92,453.64 L229.47,454.07 L230.00,454.51 L230.53,454.96 L231.05,455.43 L231.56,455.91 L232.07,456.40 L232.56,456.91 L233.05,457.43 L233.53,457.96 L234.00,458.51 L234.47,459.07 L234.92,459.64 L235.36,460.22 L235.80,460.82 L236.23,461.43 L236.64,462.05 L237.05,462.68 L237.45,463.33 L237.84,463.98 L238.22,464.65 L238.58,465.33 L238.94,466.02 L239.29,466.72 L239.63,467.43 L239.96,468.15 L240.28,468.88 L240.58,469.62 L240.88,470.38 L241.17,471.14 L241.45,471.92 L241.71,472.70 L241.97,473.49 L242.21,474.30 L242.45,475.11 L242.67,475.93 L242.88,476.76 L243.09,477.60 L243.28,478.45 L243.46,479.31 L243.63,480.18 L243.79,481.05 L243.94,481.94 L244.08,482.83 L244.21,483.73 L244.33,484.64 L244.43,485.55 L244.53,486.48 L244.62,487.41 L244.69,488.35 L244.76,489.30 L244.81,490.25 L244.86,491.21 L244.89,492.18 L244.92,493.16 L244.93,494.14 L244.93,495.13 L244.93,496.12 L244.91,497.13 L244.89,498.14 L244.85,499.15 L244.80,500.17 L244.75,501.20 L244.68,502.23 L244.61,503.27 L244.52,504.32 L244.43,505.37 L244.32,506.43 L244.21,507.49 L244.09,508.56 L243.95,509.63 L243.81,510.71 L243.66,511.79 L243.51,512.88 L243.34,513.97 L243.16,515.07 L242.98,516.17 L242.78,517.28 L242.58,518.39 L242.37,519.50 L242.15,520.63 L241.92,521.75 L241.69,522.88 L241.45,524.01 L241.19,525.15 L240.94,526.29 L240.67,527.44 L240.39,528.58 L240.11,529.74 L239.82,530.89 L239.53,532.05 L239.22,533.22 L238.91,534.38 L238.60,535.55 L238.27,536.73 L237.94,537.90 L237.60,539.08 L237.26,540.27 L236.91,541.45 L236.55,542.64 L236.19,543.83 L235.82,545.03 L235.44,546.23 L235.06,547.43 L234.68,548.63 L234.28,549.83 L233.89,551.04 L233.48,552.25 L233.08,553.46 L232.66,554.68 L232.24,555.90 L231.82,557.11 L231.39,558.34 L230.96,559.56 L230.52,560.79 L230.08,562.01 L229.63,563.24 L229.18,564.47 L228.73,565.71 L228.27,566.94 L227.81,568.18 L227.34,569.41 L226.87,570.65 L226.40,571.89 L225.92,573.14 L225.44,574.38 L224.96,575.63 L224.48,576.87 L223.99,578.12 L223.50,579.37 L223.00,580.62 L222.51,581.87 L222.01,583.12 L221.51,584.37 L221.00,585.63 L220.50,586.88 L219.99,588.14 L219.48,589.39 L218.97,590.65 L218.46,591.91 L217.94,593.17 L217.43,594.43 L216.91,595.69 L216.39,596.95 L215.87,598.21 L215.35,599.47 L214.83,600.73 L214.31,601.99 L213.79,603.25 L213.27,604.51 L212.75,605.78 L212.22,607.04 L211.70,608.30 L211.18,609.56 L210.65,610.82 L210.13,612.09 L209.61,613.35 L209.09,614.61 L208.57,615.87 L208.05,617.13 L207.53,618.39 L207.01,619.65 L206.49,620.91 L205.97,622.17 L205.46,623.43 L204.94,624.69 L204.43,625.95 L203.92,627.21 L203.41,628.46 L202.90,629.72 L202.40,630.97 L201.89,632.23 L201.39,633.48 L200.89,634.73 L200.40,635.98 L199.90,637.23 L199.41,638.48 L198.92,639.73 L198.44,640.97 L197.96,642.22 L197.48,643.46 L197.00,644.71 L196.53,645.95 L196.06,647.19 L195.59,648.42 L195.13,649.66 L194.67,650.89 L194.22,652.13 L193.77,653.36 L193.32,654.59 L192.88,655.81 L192.44,657.04 L192.01,658.26 L191.58,659.49 L191.16,660.70 L190.74,661.92 L190.32,663.14 L189.92,664.35 L189.51,665.56 L189.12,666.77 L188.72,667.97 L188.34,669.17 L187.96,670.37 L187.58,671.57 L187.21,672.77 L186.85,673.96 L186.49,675.15 L186.14,676.33 L185.80,677.52 L185.46,678.70 L185.13,679.87 L184.80,681.05 L184.49,682.22 L184.18,683.38 L183.87,684.55 L183.58,685.71 L183.29,686.86 L183.01,688.02 L182.73,689.16 L182.46,690.31 L182.21,691.45 L181.95,692.59 L181.71,693.72 L181.48,694.85 L181.25,695.97 L181.03,697.10 L180.82,698.21 L180.62,699.32 L180.42,700.43 L180.24,701.53 L180.06,702.63 L179.89,703.72 L179.74,704.81 L179.59,705.89 L179.45,706.97 L179.31,708.04 L179.19,709.11 L179.08,710.17 L178.97,711.23 L178.88,712.28 L178.79,713.33 L178.72,714.37 L178.65,715.40 L178.60,716.43 L178.55,717.45 L178.51,718.46 L178.49,719.47 L178.47,720.48 L178.47,721.47 L178.47,722.46 L178.48,723.44 L178.51,724.42 L178.54,725.39 L178.59,726.35 L178.64,727.30 L178.71,728.25 L178.78,729.19 L178.87,730.12 L178.97,731.05 L179.07,731.96 L179.19,732.87 L179.32,733.77 L179.46,734.66 L179.61,735.55 L179.77,736.42 L179.94,737.29 L180.12,738.15 L180.31,739.00 L180.52,739.84 L180.73,740.67 L180.95,741.49 L181.19,742.30 L181.43,743.11 L181.69,743.90 L181.95,744.68 L182.23,745.46 L182.52,746.22 L182.82,746.98 L183.12,747.72 L183.44,748.45 L183.77,749.17 L184.11,749.88 L184.46,750.58 L184.82,751.27 L185.18,751.95 L185.56,752.62 L185.95,753.27 L186.35,753.92 L186.76,754.55 L187.17,755.17 L187.60,755.78 L188.04,756.38 L188.48,756.96 L188.93,757.53 L189.40,758.09 L189.87,758.64 L190.35,759.17 L190.84,759.69 L191.33,760.20 L191.84,760.69 L192.35,761.17 L192.87,761.64 L193.40,762.09 L193.93,762.53 L194.48,762.96 L195.03,763.37 L195.58,763.77 L196.15,764.16 L196.72,764.53 L197.29,764.88 L197.87,765.23 L198.46,765.55 L199.06,765.87 L199.65,766.16 L200.26,766.45 L200.87,766.72 L201.48,766.97 L202.10,767.21 L202.72,767.43 L203.34,767.64 L203.97,767.83 L204.61,768.01 L205.24,768.17 L205.88,768.32 L206.52,768.45 L207.16,768.57 L207.81,768.67 L208.45,768.76 L209.10,768.83 L209.75,768.88 L210.40,768.92 L211.05,768.94 L211.70,768.95 L212.35,768.94 L213.00,768.92 L213.65,768.88 L214.30,768.83 L214.95,768.76 L215.59,768.67 L216.24,768.57 L216.88,768.45 L217.52,768.32 L218.16,768.17 L218.79,768.01 L219.43,767.83 L220.06,767.64 L220.68,767.43 L221.30,767.21 L221.92,766.97 L222.53,766.72 L223.14,766.45 L223.75,766.16 L224.34,765.87 L224.94,765.55 L225.53,765.23 L226.11,764.88 L226.68,764.53 L227.25,764.16 L227.82,763.77 L228.37,763.37 L228.92,762.96 L229.47,762.53 L230.00,762.09 L230.53,761.64 L231.05,761.17 L231.56,760.69 L232.07,760.20 L232.56,759.69 L233.05,759.17 L233.53,758.64 L234.00,758.09 L234.47,757.53 L234.92,756.96 L235.36,756.38 L235.80,755.78 L236.23,755.17 L236.64,754.55 L237.05,753.92 L237.45,753.27 L237.84,752.62 L238.22,751.95 L238.58,751.27 L238.94,750.58 L239.29,749.88 L239.63,749.17 L239.96,748.45 L240.28,747.72 L240.58,746.98 L240.88,746.22 L241.17,745.46 L241.45,744.68 L241.71,743.90 L241.97,743.11 L242.21,742.30 L242.45,741.49 L242.67,740.67 L242.88,739.84 L243.09,739.00 L243.28,738.15 L243.46,737.29 L243.63,736.42 L243.79,735.55 L243.94,734.66 L244.08,733.77 L244.21,732.87 L244.33,731.96 L244.43,731.05 L244.53,730.12 L244.62,729.19 L244.69,728.25 L244.76,727.30 L244.81,726.35 L244.86,725.39 L244.89,724.42 L244.92,723.44 L244.93,722.46 L244.93,721.47 L244.93,720.48 L244.91,719.47 L244.89,718.46 L244.85,717.45 L244.80,716.43 L244.75,715.40 L244.68,714.37 L244.61,713.33 L244.52,712.28 L244.43,711.23 L244.32,710.17 L244.21,709.11 L244.09,708.04 L243.95,706.97 L243.81,705.89 L243.66,704.81 L243.51,703.72 L243.34,702.63 L243.16,701.53 L242.98,700.43 L242.78,699.32 L242.58,698.21 L242.37,697.10 L242.15,695.97 L241.92,694.85 L241.69,693.72 L241.45,692.59 L241.19,691.45 L240.94,690.31 L240.67,689.16 L240.39,688.02 L240.11,686.86 L239.82,685.71 L239.53,684.55 L239.22,683.38 L238.91,682.22 L238.60,681.05 L238.27,679.87 L237.94,678.70 L237.60,677.52 L237.26,676.33 L236.91,675.15 L236.55,673.96 L236.19,672.77 L235.82,671.57 L235.44,670.37 L235.06,669.17 L234.68,667.97 L234.28,666.77 L233.89,665.56 L233.48,664.35 L233.08,663.14 L232.66,661.92 L232.24,660.70 L231.82,659.49 L231.39,658.26 L230.96,657.04 L230.52,655.81 L230.08,654.59 L229.63,653.36 L229.18,652.13 L228.73,650.89 L228.27,649.66 L227.81,648.42 L227.34,647.19 L226.87,645.95 L226.40,644.71 L225.92,643.46 L225.44,642.22 L224.96,640.97 L224.48,639.73 L223.99,638.48 L223.50,637.23 L223.00,635.98 L222.51,634.73 L222.01,633.48 L221.51,632.23 L221.00,630.97 L220.50,629.72 L219.99,628.46 L219.48,627.21 L218.97,625.95 L218.46,624.69 L217.94,623.43 L217.43,622.17 L216.91,620.91 L216.39,619.65 L215.87,618.39 L215.35,617.13 L214.83,615.87 L214.31,614.61 L213.79,613.35 L213.27,612.09 L212.75,610.82 L212.22,609.56 L211.70,608.30Z" fill="none" stroke="#3050c0" stroke-width="1.2"/>
<path d="M211.70,608.30 L211.18,607.04 L210.65,605.78 L210.13,604.51 L209.61,603.25 L209.09,601.99 L208.57,600.73 L208.05,599.47 L207.53,598.21 L207.01,596.95 L206.49,595.69 L205.97,594.43 L205.45,593.17 L204.94,591.91 L204.42,590.65 L203.91,589.39 L203.40,588.14 L202.89,586.88 L202.38,585.63 L201.88,584.37 L201.37,583.12 L200.87,581.87 L200.37,580.62 L199.87,579.37 L199.37,578.12 L198.88,576.87 L198.39,575.63 L197.90,574.38 L197.41,573.14 L196.93,571.89 L196.45,570.65 L195.97,569.41 L195.50,568.18 L195.03,566.94 L194.56,565.71 L194.09,564.47 L193.63,563.24 L193.18,562.01 L192.72,560.79 L192.27,559.56 L191.82,558.34 L191.38,557.11 L190.94,555.90 L190.51,554.68 L190.08,553.46 L189.66,552.25 L189.23,551.04 L188.82,549.83 L188.41,548.63 L188.00,547.43 L187.60,546.23 L187.20,545.03 L186.81,543.83 L186.42,542.64 L186.04,541.45 L185.67,540.27 L185.30,539.08 L184.94,537.90 L184.58,536.73 L184.23,535.55 L183.88,534.38 L183.54,533.22 L183.21,532.05 L182.88,530.89 L182.56,529.74 L182.25,528.58 L181.94,527.44 L181.64,526.29 L181.35,525.15 L181.07,524.01 L180.79,522.88 L180.52,521.75 L180.25,520.63 L180.00,519.50 L179.75,518.39 L179.51,517.28 L179.28,516.17 L179.06,515.07 L178.84,513.97 L178.63,512.88 L178.43,511.79 L178.25,510.71 L178.06,509.63 L177.89,508.56 L177.73,507.49 L177.57,506.43 L177.43,505.37 L177.29,504.32 L177.17,503.27 L177.05,502.23 L176.94,501.20 L176.85,500.17 L176.76,499.15 L176.68,498.14 L176.62,497.13 L176.56,496.12 L176.51,495.13 L176.48,494.14 L176.45,493.16 L176.44,492.18 L176.43,491.21 L176.44,490.25 L176.46,489.30 L176.48,488.35 L176.52,487.41 L176.58,486.48 L176.64,485.55 L176.71,484.64 L176.80,483.73 L176.89,482.83 L177.00,481.94 L177.12,481.05 L177.26,480.18 L177.40,479.31 L177.56,478.45 L177.72,477.60 L177.90,476.76 L178.09,475.93 L178.30,475.11 L178.52,474.30 L178.74,473.49 L178.98,472.70 L179.24,471.92 L179.50,471.14 L179.78,470.38 L180.07,469.62 L180.37,468.88 L180.68,468.15 L181.01,467.43 L181.35,466.72 L181.70,466.02 L182.06,465.33 L182.44,464.65 L182.83,463.98 L183.22,463.33 L183.64,462.68 L184.06,462.05 L184.49,461.43 L184.94,460.82 L185.40,460.22 L185.87,459.64 L186.35,459.07 L186.84,458.51 L187.34,457.96 L187.86,457.43 L188.38,456.91 L188.92,456.40 L189.46,455.91 L190.02,455.43 L190.58,454.96 L191.16,454.51 L191.75,454.07 L192.34,453.64 L192.94,453.23 L193.56,452.83 L194.18,452.44 L194.81,452.07 L195.45,451.72 L196.10,451.37 L196.75,451.05 L197.41,450.73 L198.08,450.44 L198.76,450.15 L199.44,449.88 L200.13,449.63 L200.82,449.39 L201.52,449.17 L202.23,448.96 L202.94,448.77 L203.65,448.59 L204.37,448.43 L205.09,448.28 L205.82,448.15 L206.55,448.03 L207.28,447.93 L208.01,447.84 L208.75,447.77 L209.48,447.72 L210.22,447.68 L210.96,447.66 L211.70,447.65 L212.44,447.66 L213.18,447.68 L213.92,447.72 L214.65,447.77 L215.39,447.84 L216.12,447.93 L216.85,448.03 L217.58,448.15 L218.31,448.28 L219.03,448.43 L219.75,448.59 L220.46,448.77 L221.17,448.96 L221.88,449.17 L222.58,449.39 L223.27,449.63 L223.96,449.88 L224.64,450.15 L225.32,450.44 L225.99,450.73 L226.65,451.05 L227.30,451.37 L227.95,451.72 L228.59,452.07 L229.22,452.44 L229.84,452.83 L230.46,453.23 L231.06,453.64 L231.65,454.07 L232.24,454.51 L232.82,454.96 L233.38,455.43 L233.94,455.91 L234.48,456.40 L235.02,456.91 L235.54,457.43 L236.06,457.96 L236.56,458.51 L237.05,459.07 L237.53,459.64 L238.00,460.22 L238.46,460.82 L238.91,461.43 L239.34,462.05 L239.76,462.68 L240.18,463.33 L240.57,463.98 L240.96,464.65 L241.34,465.33 L241.70,466.02 L242.05,466.72 L242.39,467.43 L242.72,468.15 L243.03,468.88 L243.33,469.62 L243.62,470.38 L243.90,471.14 L244.16,471.92 L244.42,472.70 L244.66,473.49 L244.88,474.30 L245.10,475.11 L245.31,475.93 L245.50,476.76 L245.68,477.60 L245.84,478.45 L246.00,479.31 L246.14,480.18 L246.28,481.05 L246.40,481.94 L246.51,482.83 L246.60,483.73 L246.69,484.64 L246.76,485.55 L246.82,486.48 L246.88,487.41 L246.92,488.35 L246.94,489.30 L246.96,490.25 L246.97,491.21 L246.96,492.18 L246.95,493.16 L246.92,494.14 L246.89,495.13 L246.84,496.12 L246.78,497.13 L246.72,498.14 L246.64,499.15 L246.55,500.17 L246.46,501.20 L246.35,502.23 L246.23,503.27 L246.11,504.32 L245.97,505.37 L245.83,506.43 L245.67,507.49 L245.51,508.56 L245.34,509.63 L245.15,510.71 L244.97,511.79 L244.77,512.88 L244.56,513.97 L244.34,515.07 L244.12,516.17 L243.89,517.28 L243.65,518.39 L243.40,519.50 L243.15,520.63 L242.88,521.75 L242.61,522.88 L242.33,524.01 L242.05,525.15 L241.76,526.29 L241.46,527.44 L241.15,528.58 L240.84,529.74 L240.52,530.89 L240.19,532.05 L239.86,533.22 L239.52,534.38 L239.17,535.55 L238.82,536.73 L238.46,537.90 L238.10,539.08 L237.73,540.27 L237.36,541.45 L236.98,542.64 L236.59,543.83 L236.20,545.03 L235.80,546.23 L235.40,547.43 L234.99,548.63 L234.58,549.83 L234.17,551.04 L233.74,552.25 L233.32,553.46 L232.89,554.68 L232.46,555.90 L232.02,557.11 L231.58,558.34 L231.13,559.56 L230.68,560.79 L230.22,562.01 L229.77,563.24 L229.31,564.47 L228.84,565.71 L228.37,566.94 L227.90,568.18 L227.43,569.41 L226.95,570.65 L226.47,571.89 L225.99,573.14 L225.50,574.38 L225.01,575.63 L224.52,576.87 L224.03,578.12 L223.53,579.37 L223.03,580.62 L222.53,581.87 L222.03,583.12 L221.52,584.37 L221.02,585.63 L220.51,586.88 L220.00,588.14 L219.49,589.39 L218.98,590.65 L218.46,591.91 L217.95,593.17 L217.43,594.43 L216.91,595.69 L216.39,596.95 L215.87,598.21 L215.35,599.47 L214.83,600.73 L214.31,601.99 L213.79,603.25 L213.27,604.51 L212.75,605.78 L212.22,607.04 L211.70,608.30 L211.18,609.56 L210.65,610.82 L210.13,612.09 L209.61,613.35 L209.09,614.61 L208.57,615.87 L208.05,617.13 L207.53,618.39 L207.01,619.65 L206.49,620.91 L205.97,622.17 L205.45,623.43 L204.94,624.69 L204.42,625.95 L203.91,627.21 L203.40,628.46 L202.89,629.72 L202.38,630.97 L201.88,632.23 L201.37,633.48 L200.87,634.73 L200.37,635.98 L199.87,637.23 L199.37,638.48 L198.88,639.73 L198.39,640.97 L197.90,642.22 L197.41,643.46 L196.93,644.71 L196.45,645.95 L195.97,647.19 L195.50,648.42 L195.03,649.66 L194.56,650.89 L194.09,652.13 L193.63,653.36 L193.18,654.59 L192.72,655.81 L192.27,657.04 L191.82,658.26 L191.38,659.49 L190.94,660.70 L190.51,661.92 L190.08,663.14 L189.66,664.35 L189.23,665.56 L188.82,666.77 L188.41,667.97 L188.00,669.17 L187.60,670.37 L187.20,671.57 L186.81,672.77 L186.42,673.96 L186.04,675.15 L185.67,676.33 L185.30,677.52 L184.94,678.70 L184.58,679.87 L184.23,681.05 L183.88,682.22 L183.54,683.38 L183.21,684.55 L182.88,685.71 L182.56,686.86 L182.25,688.02 L181.94,689.16 L181.64,690.31 L181.35,691.45 L181.07,692.59 L180.79,693.72 L180.52,694.85 L180.25,695.97 L180.00,697.10 L179.75,698.21 L179.51,699.32 L179.28,700.43 L179.06,701.53 L178.84,702.63 L178.63,703.72 L178.43,704.81 L178.25,705.89 L178.06,706.97 L177.89,708.04 L177.73,709.11 L177.57,710.17 L177.43,711.23 L177.29,712.28 L177.17,713.33 L177.05,714.37 L176.94,715.40 L176.85,716.43 L176.76,717.45 L176.68,718.46 L176.62,719.47 L176.56,720.48 L176.51,721.47 L176.48,722.46 L176.45,723.44 L176.44,724.42 L176.43,725.39 L176.44,726.35 L176.46,727.30 L176.48,728.25 L176.52,729.19 L176.58,730.12 L176.64,731.05 L176.71,731.96 L176.80,732.87 L176.89,733.77 L177.00,734.66 L177.12,735.55 L177.26,736.42 L177.40,737.29 L177.56,738.15 L177.72,739.00 L177.90,739.84 L178.09,740.67 L178.30,741.49 L178.52,742.30 L178.74,743.11 L178.98,743.90 L179.24,744.68 L179.50,745.46 L179.78,746.22 L180.07,746.98 L180.37,747.72 L180.68,748.45 L181.01,749.17 L181.35,749.88 L181.70,750.58 L182.06,751.27 L182.44,751.95 L182.83,752.62 L183.22,753.27 L183.64,753.92 L184.06,754.55 L184.49,755.17 L184.94,755.78 L185.40,756.38 L185.87,756.96 L186.35,757.53 L186.84,758.09 L187.34,758.64 L187.86,759.17 L188.38,759.69 L188.92,760.20 L189.46,760.69 L190.02,761.17 L190.58,761.64 L191.16,762.09 L191.75,762.53 L192.34,762.96 L192.94,763.37 L193.56,763.77 L194.18,764.16 L194.81,764.53 L195.45,764.88 L196.10,765.23 L196.75,765.55 L197.41,765.87 L198.08,766.16 L198.76,766.45 L199.44,766.72 L200.13,766.97 L200.82,767.21 L201.52,767.43 L202.23,767.64 L202.94,767.83 L203.65,768.01 L204.37,768.17 L205.09,768.32 L205.82,768.45 L206.55,768.57 L207.28,768.67 L208.01,768.76 L208.75,768.83 L209.48,768.88 L210.22,768.92 L210.96,768.94 L211.70,768.95 L212.44,768.94 L213.18,768.92 L213.92,768.88 L214.65,768.83 L215.39,768.76 L216.12,768.67 L216.85,768.57 L217.58,768.45 L218.31,768.32 L219.03,768.17 L219.75,768.01 L220.46,767.83 L221.17,767.64 L221.88,767.43 L222.58,767.21 L223.27,766.97 L223.96,766.72 L224.64,766.45 L225.32,766.16 L225.99,765.87 L226.65,765.55 L227.30,765.23 L227.95,764.88 L228.59,764.53 L229.22,764.16 L229.84,763.77 L230.46,763.37 L231.06,762.96 L231.65,762.53 L232.24,762.09 L232.82,761.64 L233.38,761.17 L233.94,760.69 L234.48,760.20 L235.02,759.69 L235.54,759.17 L236.06,758.64 L236.56,758.09 L237.05,757.53 L237.53,756.96 L238.00,756.38 L238.46,755.78 L238.91,755.17 L239.34,754.55 L239.76,753.92 L240.18,753.27 L240.57,752.62 L240.96,751.95 L241.34,751.27 L241.70,750.58 L242.05,749.88 L242.39,749.17 L242.72,748.45 L243.03,747.72 L243.33,746.98 L243.62,746.22 L243.90,745.46 L244.16,744.68 L244.42,743.90 L244.66,743.11 L244.88,742.30 L245.10,741.49 L245.31,740.67 L245.50,739.84 L245.68,739.00 L245.84,738.15 L246.00,737.29 L246.14,736.42 L246.28,735.55 L246.40,734.66 L246.51,733.77 L246.60,732.87 L246.69,731.96 L246.76,731.05 L246.82,730.12 L246.88,729.19 L246.92,728.25 L246.94,727.30 L246.96,726.35 L246.97,725.39 L246.96,724.42 L246.95,723.44 L246.92,722.46 L246.89,721.47 L246.84,720.48 L246.78,719.47 L246.72,718.46 L246.64,717.45 L246.55,716.43 L246.46,715.40 L246.35,714.37 L246.23,713.33 L246.11,712.28 L245.97,711.23 L245.83,710.17 L245.67,709.11 L245.51,708.04 L245.34,706.97 L245.15,705.89 L244.97,704.81 L244.77,703.72 L244.56,702.63 L244.34,701.53 L244.12,700.43 L243.89,699.32 L243.65,698.21 L243.40,697.10 L243.15,695.97 L242.88,694.85 L242.61,693.72 L242.33,692.59 L242.05,691.45 L241.76,690.31 L241.46,689.16 L241.15,688.02 L240.84,686.86 L240.52,685.71 L240.19,684.55 L239.86,683.38 L239.52,682.22 L239.17,681.05 L238.82,679.87 L238.46,678.70 L238.10,677.52 L237.73,676.33 L237.36,675.15 L236.98,673.96 L236.59,672.77 L236.20,671.57 L235.80,670.37 L235.40,669.17 L234.99,667.97 L234.58,666.77 L234.17,665.56 L233.74,664.35 L233.32,663.14 L232.89,661.92 L232.46,660.70 L232.02,659.49 L231.58,658.26 L231.13,657.04 L230.68,655.81 L230.22,654.59 L229.77,653.36 L229.31,652.13 L228.84,650.89 L228.37,649.66 L227.90,648.42 L227.43,647.19 L226.95,645.95 L226.47,644.71 L225.99,643.46 L225.50,642.22 L225.01,640.97 L224.52,639.73 L224.03,638.48 L223.53,637.23 L223.03,635.98 L222.53,634.73 L222.03,633.48 L221.52,632.23 L221.02,630.97 L220.51,629.72 L220.00,628.46 L219.49,627.21 L218.98,625.95 L218.46,624.69 L217.95,623.43 L217.43,622.17 L216.91,620.91 L216.39,619.65 L215.87,618.39 L215.35,617.13 L214.83,615.87 L214.31,614.61 L213.79,613.35 L213.27,612.09 L212.75,610.82 L212.22,609.56 L211.70,608.30Z" fill="none" stroke="#e02018" stroke-width="2.2"/>
<line x1="37.6" y1="531.2" x2="86.8" y2="531.2" stroke="#3050c0" stroke-width="1.2"/>
<line x1="37.6" y1="550.5" x2="86.8" y2="550.5" stroke="#e02018" stroke-width="2"/>
<line x1="37.6" y1="569.7" x2="86.8" y2="569.7" stroke="#000" stroke-width="2"/>
<g font-family="Liberation Sans, Arial, Helvetica, sans-serif" font-size="12.7" fill="#111"><text x="95.4" y="536.3">Cartesian C.</text><text x="95.4" y="555.7">Longit., Latit.</text><text x="95.4" y="574.8">Lemniscate</text><text x="308.4" y="555.3">Inclination</text><text x="375.6" y="555.3">45</text><text x="308.4" y="623">Equator</text></g>
</svg>
</body></html>
